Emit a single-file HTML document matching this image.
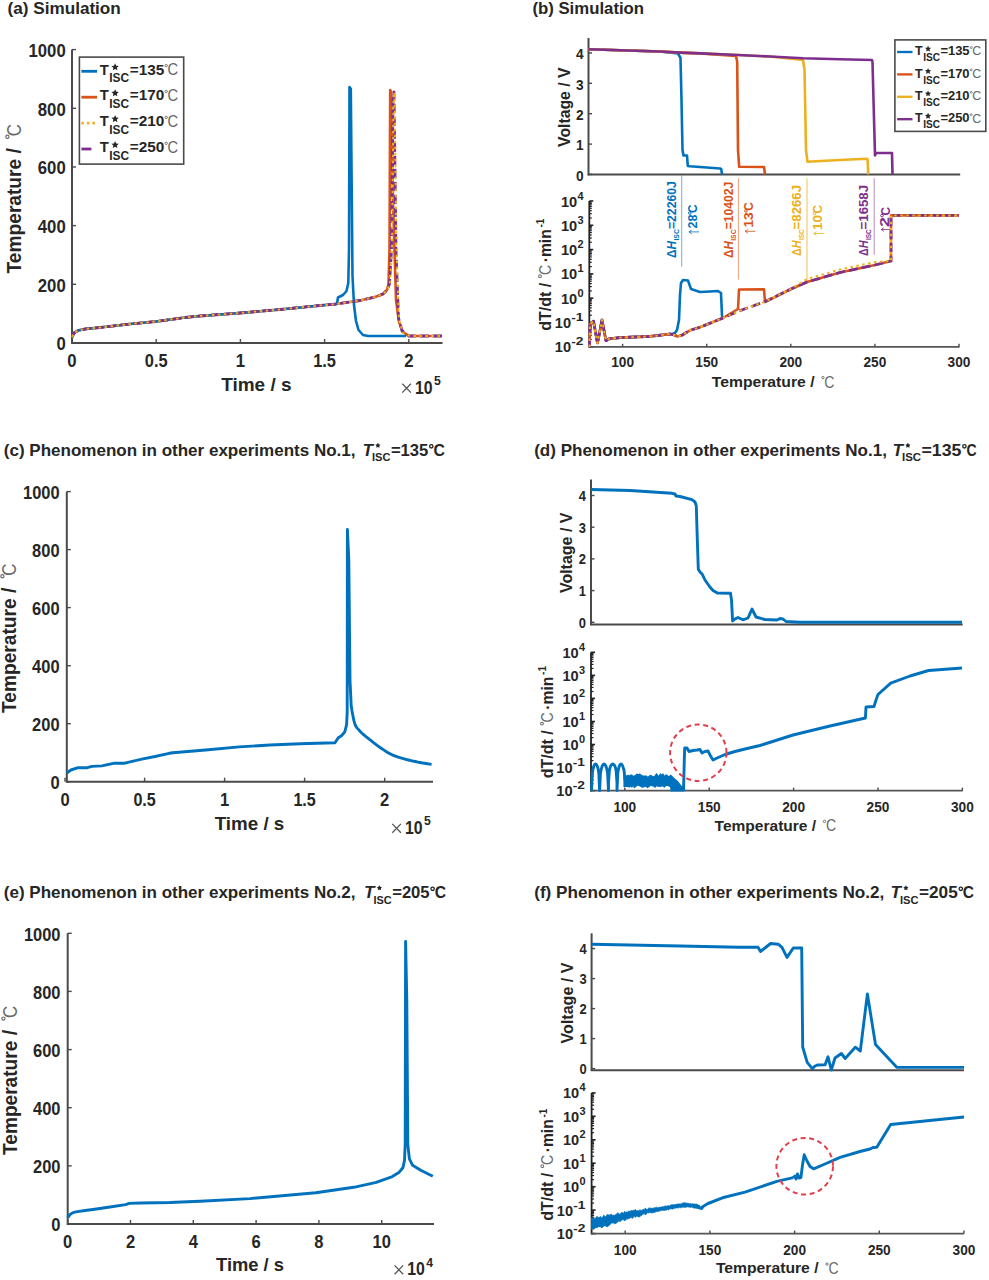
<!DOCTYPE html>
<html><head><meta charset="utf-8"><style>
html,body{margin:0;padding:0;background:#fff;}
svg{display:block;font-family:"Liberation Sans", sans-serif;}
</style></head><body>
<svg width="989" height="1280" viewBox="0 0 989 1280">
<rect width="989" height="1280" fill="#fff"/>
<text x="7.6" y="14.0" font-size="16.5" font-weight="bold" text-anchor="start" fill="#262626" textLength="113.2" lengthAdjust="spacingAndGlyphs" >(a) Simulation</text>
<line x1="72.0" y1="49.6" x2="72.0" y2="343.8" stroke="#4a4a4a" stroke-width="2.0" />
<line x1="71.2" y1="343.0" x2="442.5" y2="343.0" stroke="#4a4a4a" stroke-width="2.0" />
<line x1="72.0" y1="343.0" x2="76.0" y2="343.0" stroke="#4a4a4a" stroke-width="1.4" />
<text x="65.7" y="350.3" font-size="18" font-weight="bold" text-anchor="end" fill="#262626" textLength="9.3" lengthAdjust="spacingAndGlyphs" >0</text>
<line x1="72.0" y1="284.3" x2="76.0" y2="284.3" stroke="#4a4a4a" stroke-width="1.4" />
<text x="65.7" y="291.6" font-size="18" font-weight="bold" text-anchor="end" fill="#262626" textLength="27.9" lengthAdjust="spacingAndGlyphs" >200</text>
<line x1="72.0" y1="225.6" x2="76.0" y2="225.6" stroke="#4a4a4a" stroke-width="1.4" />
<text x="65.7" y="232.9" font-size="18" font-weight="bold" text-anchor="end" fill="#262626" textLength="27.9" lengthAdjust="spacingAndGlyphs" >400</text>
<line x1="72.0" y1="167.0" x2="76.0" y2="167.0" stroke="#4a4a4a" stroke-width="1.4" />
<text x="65.7" y="174.3" font-size="18" font-weight="bold" text-anchor="end" fill="#262626" textLength="27.9" lengthAdjust="spacingAndGlyphs" >600</text>
<line x1="72.0" y1="108.3" x2="76.0" y2="108.3" stroke="#4a4a4a" stroke-width="1.4" />
<text x="65.7" y="115.6" font-size="18" font-weight="bold" text-anchor="end" fill="#262626" textLength="27.9" lengthAdjust="spacingAndGlyphs" >800</text>
<line x1="72.0" y1="49.6" x2="76.0" y2="49.6" stroke="#4a4a4a" stroke-width="1.4" />
<text x="65.7" y="56.9" font-size="18" font-weight="bold" text-anchor="end" fill="#262626" textLength="37.2" lengthAdjust="spacingAndGlyphs" >1000</text>
<line x1="72.0" y1="343.0" x2="72.0" y2="339.0" stroke="#4a4a4a" stroke-width="1.4" />
<text x="72.0" y="367.3" font-size="18" font-weight="bold" text-anchor="middle" fill="#262626" textLength="9.3" lengthAdjust="spacingAndGlyphs" >0</text>
<line x1="156.2" y1="343.0" x2="156.2" y2="339.0" stroke="#4a4a4a" stroke-width="1.4" />
<text x="156.2" y="367.3" font-size="18" font-weight="bold" text-anchor="middle" fill="#262626" textLength="22.8" lengthAdjust="spacingAndGlyphs" >0.5</text>
<line x1="240.4" y1="343.0" x2="240.4" y2="339.0" stroke="#4a4a4a" stroke-width="1.4" />
<text x="240.4" y="367.3" font-size="18" font-weight="bold" text-anchor="middle" fill="#262626" textLength="9.3" lengthAdjust="spacingAndGlyphs" >1</text>
<line x1="324.6" y1="343.0" x2="324.6" y2="339.0" stroke="#4a4a4a" stroke-width="1.4" />
<text x="324.6" y="367.3" font-size="18" font-weight="bold" text-anchor="middle" fill="#262626" textLength="22.8" lengthAdjust="spacingAndGlyphs" >1.5</text>
<line x1="408.8" y1="343.0" x2="408.8" y2="339.0" stroke="#4a4a4a" stroke-width="1.4" />
<text x="408.8" y="367.3" font-size="18" font-weight="bold" text-anchor="middle" fill="#262626" textLength="9.3" lengthAdjust="spacingAndGlyphs" >2</text>
<polyline points="72.0,337.0 74.0,333.0 78.0,330.5 85.0,329.0 100.0,327.5 130.0,324.0 156.0,321.5 185.0,317.5 200.0,316.0 240.0,313.0 280.0,309.5 320.0,305.5 336.0,304.0 360.0,300.5 375.0,297.0 383.0,294.0 387.0,290.0 388.5,284.0 389.5,250.0 390.2,90.0 391.2,92.0 393.0,200.0 396.0,300.0 399.0,322.0 403.0,332.0 409.0,336.0 442.0,336.0" fill="none" stroke="#D95319" stroke-width="2.6" stroke-linejoin="round" stroke-linecap="butt" />
<polyline points="72.0,337.0 74.0,333.0 78.0,330.5 85.0,329.0 100.0,327.5 130.0,324.0 156.0,321.5 185.0,317.5 200.0,316.0 240.0,313.0 280.0,309.5 320.0,305.5 336.0,304.0 337.0,303.5 338.0,297.5 343.0,295.0 346.5,291.0 348.3,283.0 349.0,250.0 349.5,87.0 350.8,89.0 351.8,200.0 352.5,276.0 354.0,305.0 356.0,321.0 358.5,330.0 363.0,335.0 368.0,336.0 406.0,336.0" fill="none" stroke="#0072BD" stroke-width="2.6" stroke-linejoin="round" stroke-linecap="butt" />
<polyline points="72.0,337.0 74.0,333.0 78.0,330.5 85.0,329.0 100.0,327.5 130.0,324.0 156.0,321.5 185.0,317.5 200.0,316.0 240.0,313.0 280.0,309.5 320.0,305.5 336.0,304.0 360.0,300.5 375.0,297.0 383.0,294.0 387.0,290.0 389.5,284.0 391.5,250.0 393.0,100.0 394.0,92.0 396.0,250.0 398.5,318.0 402.0,331.0 409.0,336.0 442.0,336.0" fill="none" stroke="#7E2F8E" stroke-width="2.8" stroke-linejoin="round" stroke-linecap="butt" stroke-dasharray="9,4"/>
<polyline points="72.0,337.0 74.0,333.0 78.0,330.5 85.0,329.0 100.0,327.5 130.0,324.0 156.0,321.5 185.0,317.5 200.0,316.0 240.0,313.0 280.0,309.5 320.0,305.5 336.0,304.0 360.0,300.5 375.0,297.0 383.0,294.0 387.0,290.0 390.0,284.0 392.0,250.0 393.5,100.0 394.5,92.0 396.5,250.0 399.0,320.0 403.0,333.0 410.0,336.0 442.0,336.0" fill="none" stroke="#EDB120" stroke-width="2.0" stroke-linejoin="round" stroke-linecap="butt" stroke-dasharray="2.5,3.5"/>
<path d="M402.3,383.8 L410.9,392.6 M410.9,383.8 L402.3,392.6" stroke="#555" stroke-width="1.3" fill="none"/>
<text x="415.0" y="393.8" font-size="17.5" font-weight="bold" text-anchor="start" fill="#262626" textLength="17.6" lengthAdjust="spacingAndGlyphs" >10</text>
<text x="433.9" y="385.2" font-size="12.5" font-weight="bold" text-anchor="start" fill="#262626" textLength="6.8" lengthAdjust="spacingAndGlyphs" >5</text>
<text x="256.4" y="391.0" font-size="18.5" font-weight="bold" text-anchor="middle" fill="#262626" textLength="70.4" lengthAdjust="spacingAndGlyphs" >Time / s</text>
<text x="20.6" y="273.4" font-size="19.3" font-weight="bold" text-anchor="start" fill="#262626" textLength="125.2" lengthAdjust="spacingAndGlyphs" transform="rotate(-90 20.6 273.4)" >Temperature /</text>
<g transform="rotate(-90 20.6 139.0)">
<circle cx="22.8" cy="125.8" r="1.6" fill="none" stroke="#6a6a6a" stroke-width="1.16"/>
<text x="23.4" y="139.0" font-size="20" font-weight="normal" fill="#6a6a6a" textLength="12.2" lengthAdjust="spacingAndGlyphs">C</text>
</g>
<rect x="79.4" y="57.1" width="104.3" height="107" fill="#fff" stroke="#4a4a4a" stroke-width="1.6"/>
<line x1="81.4" y1="71.3" x2="97.1" y2="71.3" stroke="#0072BD" stroke-width="2.8" />
<text x="99.7" y="74.5" font-size="14.8" font-weight="bold" text-anchor="start" fill="#262626" textLength="9.0" lengthAdjust="spacingAndGlyphs" >T</text>
<polygon points="115.10,63.30 116.18,65.72 118.81,65.99 116.84,67.77 117.39,70.36 115.10,69.03 112.81,70.36 113.36,67.77 111.39,65.99 114.02,65.72" fill="#262626"/>
<text x="109.3" y="81.8" font-size="12.2" font-weight="bold" text-anchor="start" fill="#262626" textLength="19.9" lengthAdjust="spacingAndGlyphs" >ISC</text>
<text x="129.7" y="74.5" font-size="15.0" font-weight="bold" text-anchor="start" fill="#262626" textLength="34.6" lengthAdjust="spacingAndGlyphs" >=135</text>
<circle cx="166.2" cy="65.6" r="1.2" fill="none" stroke="#666" stroke-width="0.90"/>
<text x="167.4" y="74.8" font-size="16.0" font-weight="normal" text-anchor="start" fill="#666" textLength="10.6" lengthAdjust="spacingAndGlyphs" >C</text>
<line x1="81.4" y1="97.2" x2="97.1" y2="97.2" stroke="#D95319" stroke-width="2.8" />
<text x="99.7" y="100.4" font-size="14.8" font-weight="bold" text-anchor="start" fill="#262626" textLength="9.0" lengthAdjust="spacingAndGlyphs" >T</text>
<polygon points="115.10,89.20 116.18,91.62 118.81,91.89 116.84,93.67 117.39,96.26 115.10,94.93 112.81,96.26 113.36,93.67 111.39,91.89 114.02,91.62" fill="#262626"/>
<text x="109.3" y="107.7" font-size="12.2" font-weight="bold" text-anchor="start" fill="#262626" textLength="19.9" lengthAdjust="spacingAndGlyphs" >ISC</text>
<text x="129.7" y="100.4" font-size="15.0" font-weight="bold" text-anchor="start" fill="#262626" textLength="34.6" lengthAdjust="spacingAndGlyphs" >=170</text>
<circle cx="166.2" cy="91.5" r="1.2" fill="none" stroke="#666" stroke-width="0.90"/>
<text x="167.4" y="100.7" font-size="16.0" font-weight="normal" text-anchor="start" fill="#666" textLength="10.6" lengthAdjust="spacingAndGlyphs" >C</text>
<line x1="81.4" y1="123.1" x2="97.1" y2="123.1" stroke="#EDB120" stroke-width="2.8" stroke-dasharray="2.5,3"/>
<text x="99.7" y="126.3" font-size="14.8" font-weight="bold" text-anchor="start" fill="#262626" textLength="9.0" lengthAdjust="spacingAndGlyphs" >T</text>
<polygon points="115.10,115.10 116.18,117.52 118.81,117.79 116.84,119.57 117.39,122.16 115.10,120.83 112.81,122.16 113.36,119.57 111.39,117.79 114.02,117.52" fill="#262626"/>
<text x="109.3" y="133.6" font-size="12.2" font-weight="bold" text-anchor="start" fill="#262626" textLength="19.9" lengthAdjust="spacingAndGlyphs" >ISC</text>
<text x="129.7" y="126.3" font-size="15.0" font-weight="bold" text-anchor="start" fill="#262626" textLength="34.6" lengthAdjust="spacingAndGlyphs" >=210</text>
<circle cx="166.2" cy="117.4" r="1.2" fill="none" stroke="#666" stroke-width="0.90"/>
<text x="167.4" y="126.6" font-size="16.0" font-weight="normal" text-anchor="start" fill="#666" textLength="10.6" lengthAdjust="spacingAndGlyphs" >C</text>
<line x1="81.4" y1="149.0" x2="97.1" y2="149.0" stroke="#7E2F8E" stroke-width="2.8" stroke-dasharray="10,8"/>
<text x="99.7" y="152.2" font-size="14.8" font-weight="bold" text-anchor="start" fill="#262626" textLength="9.0" lengthAdjust="spacingAndGlyphs" >T</text>
<polygon points="115.10,141.00 116.18,143.42 118.81,143.69 116.84,145.47 117.39,148.06 115.10,146.73 112.81,148.06 113.36,145.47 111.39,143.69 114.02,143.42" fill="#262626"/>
<text x="109.3" y="159.5" font-size="12.2" font-weight="bold" text-anchor="start" fill="#262626" textLength="19.9" lengthAdjust="spacingAndGlyphs" >ISC</text>
<text x="129.7" y="152.2" font-size="15.0" font-weight="bold" text-anchor="start" fill="#262626" textLength="34.6" lengthAdjust="spacingAndGlyphs" >=250</text>
<circle cx="166.2" cy="143.3" r="1.2" fill="none" stroke="#666" stroke-width="0.90"/>
<text x="167.4" y="152.5" font-size="16.0" font-weight="normal" text-anchor="start" fill="#666" textLength="10.6" lengthAdjust="spacingAndGlyphs" >C</text>
<text x="532.4" y="14.0" font-size="16.5" font-weight="bold" text-anchor="start" fill="#262626" textLength="111.7" lengthAdjust="spacingAndGlyphs" >(b) Simulation</text>
<line x1="588.5" y1="38.0" x2="588.5" y2="175.4" stroke="#4a4a4a" stroke-width="2.0" />
<line x1="587.7" y1="174.6" x2="960.2" y2="174.6" stroke="#4a4a4a" stroke-width="2.0" />
<line x1="588.5" y1="174.4" x2="592.0" y2="174.4" stroke="#4a4a4a" stroke-width="1.4" />
<text x="583.5" y="180.6" font-size="15" font-weight="bold" text-anchor="end" fill="#262626" textLength="7.6" lengthAdjust="spacingAndGlyphs" >0</text>
<line x1="588.5" y1="144.1" x2="592.0" y2="144.1" stroke="#4a4a4a" stroke-width="1.4" />
<text x="583.5" y="150.2" font-size="15" font-weight="bold" text-anchor="end" fill="#262626" textLength="7.6" lengthAdjust="spacingAndGlyphs" >1</text>
<line x1="588.5" y1="113.7" x2="592.0" y2="113.7" stroke="#4a4a4a" stroke-width="1.4" />
<text x="583.5" y="119.9" font-size="15" font-weight="bold" text-anchor="end" fill="#262626" textLength="7.6" lengthAdjust="spacingAndGlyphs" >2</text>
<line x1="588.5" y1="83.3" x2="592.0" y2="83.3" stroke="#4a4a4a" stroke-width="1.4" />
<text x="583.5" y="89.5" font-size="15" font-weight="bold" text-anchor="end" fill="#262626" textLength="7.6" lengthAdjust="spacingAndGlyphs" >3</text>
<line x1="588.5" y1="53.0" x2="592.0" y2="53.0" stroke="#4a4a4a" stroke-width="1.4" />
<text x="583.5" y="59.2" font-size="15" font-weight="bold" text-anchor="end" fill="#262626" textLength="7.6" lengthAdjust="spacingAndGlyphs" >4</text>
<text x="569.6" y="146.9" font-size="16" font-weight="bold" text-anchor="start" fill="#262626" textLength="79.4" lengthAdjust="spacingAndGlyphs" transform="rotate(-90 569.6 146.9)" >Voltage / V</text>
<polyline points="588.5,49.3 620.0,50.2 660.0,51.5 678.0,53.5 680.5,58.0 681.5,100.0 682.5,150.0 683.5,155.5 687.0,155.5 687.8,166.0 690.0,166.3 720.0,168.5 721.2,169.0 722.0,174.4" fill="none" stroke="#0072BD" stroke-width="2.6" stroke-linejoin="round" stroke-linecap="butt" />
<polyline points="588.5,49.3 620.0,50.2 660.0,51.5 680.0,52.6 700.0,53.4 736.0,56.0 737.2,62.0 738.0,150.0 739.2,166.8 764.0,167.0 765.0,174.4" fill="none" stroke="#D95319" stroke-width="2.6" stroke-linejoin="round" stroke-linecap="butt" />
<polyline points="588.5,49.3 620.0,50.2 660.0,51.5 680.0,52.6 700.0,53.4 738.0,55.0 770.0,56.5 803.0,60.0 804.5,70.0 806.0,150.0 807.5,161.8 830.0,160.5 866.0,158.7 867.5,159.0 868.3,174.4" fill="none" stroke="#EDB120" stroke-width="2.6" stroke-linejoin="round" stroke-linecap="butt" />
<polyline points="588.5,49.3 620.0,50.2 660.0,51.5 680.0,52.6 700.0,53.4 738.0,55.0 770.0,56.5 803.0,58.3 840.0,59.2 872.0,60.0 872.5,62.0 873.5,100.0 875.0,155.5 876.0,153.0 892.0,153.0 892.5,174.4" fill="none" stroke="#7E2F8E" stroke-width="2.6" stroke-linejoin="round" stroke-linecap="butt" />
<rect x="894.9" y="39.9" width="90.9" height="91.5" fill="#fff" stroke="#4a4a4a" stroke-width="1.6"/>
<line x1="897.1" y1="52.0" x2="912.5" y2="52.0" stroke="#0072BD" stroke-width="2.3659999999999997" />
<text x="915.0" y="55.1" font-size="12.506" font-weight="bold" text-anchor="start" fill="#262626" textLength="7.6" lengthAdjust="spacingAndGlyphs" >T</text>
<polygon points="928.06,45.59 928.97,47.63 931.19,47.87 929.53,49.36 930.00,51.55 928.06,50.43 926.12,51.55 926.59,49.36 924.93,47.87 927.15,47.63" fill="#262626"/>
<text x="923.2" y="61.2" font-size="10.309" font-weight="bold" text-anchor="start" fill="#262626" textLength="16.8" lengthAdjust="spacingAndGlyphs" >ISC</text>
<text x="940.4" y="55.1" font-size="12.674999999999999" font-weight="bold" text-anchor="start" fill="#262626" textLength="29.2" lengthAdjust="spacingAndGlyphs" >=135</text>
<circle cx="971.2" cy="47.5" r="1.0" fill="none" stroke="#666" stroke-width="0.76"/>
<text x="972.3" y="55.3" font-size="13.52" font-weight="normal" text-anchor="start" fill="#666" textLength="9.0" lengthAdjust="spacingAndGlyphs" >C</text>
<line x1="897.1" y1="74.4" x2="912.5" y2="74.4" stroke="#D95319" stroke-width="2.3659999999999997" />
<text x="915.0" y="77.5" font-size="12.506" font-weight="bold" text-anchor="start" fill="#262626" textLength="7.6" lengthAdjust="spacingAndGlyphs" >T</text>
<polygon points="928.06,67.99 928.97,70.03 931.19,70.27 929.53,71.76 930.00,73.95 928.06,72.83 926.12,73.95 926.59,71.76 924.93,70.27 927.15,70.03" fill="#262626"/>
<text x="923.2" y="83.6" font-size="10.309" font-weight="bold" text-anchor="start" fill="#262626" textLength="16.8" lengthAdjust="spacingAndGlyphs" >ISC</text>
<text x="940.4" y="77.5" font-size="12.674999999999999" font-weight="bold" text-anchor="start" fill="#262626" textLength="29.2" lengthAdjust="spacingAndGlyphs" >=170</text>
<circle cx="971.2" cy="69.9" r="1.0" fill="none" stroke="#666" stroke-width="0.76"/>
<text x="972.3" y="77.7" font-size="13.52" font-weight="normal" text-anchor="start" fill="#666" textLength="9.0" lengthAdjust="spacingAndGlyphs" >C</text>
<line x1="897.1" y1="96.8" x2="912.5" y2="96.8" stroke="#EDB120" stroke-width="2.3659999999999997" />
<text x="915.0" y="99.9" font-size="12.506" font-weight="bold" text-anchor="start" fill="#262626" textLength="7.6" lengthAdjust="spacingAndGlyphs" >T</text>
<polygon points="928.06,90.39 928.97,92.43 931.19,92.67 929.53,94.16 930.00,96.35 928.06,95.23 926.12,96.35 926.59,94.16 924.93,92.67 927.15,92.43" fill="#262626"/>
<text x="923.2" y="106.0" font-size="10.309" font-weight="bold" text-anchor="start" fill="#262626" textLength="16.8" lengthAdjust="spacingAndGlyphs" >ISC</text>
<text x="940.4" y="99.9" font-size="12.674999999999999" font-weight="bold" text-anchor="start" fill="#262626" textLength="29.2" lengthAdjust="spacingAndGlyphs" >=210</text>
<circle cx="971.2" cy="92.3" r="1.0" fill="none" stroke="#666" stroke-width="0.76"/>
<text x="972.3" y="100.1" font-size="13.52" font-weight="normal" text-anchor="start" fill="#666" textLength="9.0" lengthAdjust="spacingAndGlyphs" >C</text>
<line x1="897.1" y1="119.2" x2="912.5" y2="119.2" stroke="#7E2F8E" stroke-width="2.3659999999999997" />
<text x="915.0" y="122.3" font-size="12.506" font-weight="bold" text-anchor="start" fill="#262626" textLength="7.6" lengthAdjust="spacingAndGlyphs" >T</text>
<polygon points="928.06,112.79 928.97,114.83 931.19,115.07 929.53,116.56 930.00,118.75 928.06,117.63 926.12,118.75 926.59,116.56 924.93,115.07 927.15,114.83" fill="#262626"/>
<text x="923.2" y="128.4" font-size="10.309" font-weight="bold" text-anchor="start" fill="#262626" textLength="16.8" lengthAdjust="spacingAndGlyphs" >ISC</text>
<text x="940.4" y="122.3" font-size="12.674999999999999" font-weight="bold" text-anchor="start" fill="#262626" textLength="29.2" lengthAdjust="spacingAndGlyphs" >=250</text>
<circle cx="971.2" cy="114.7" r="1.0" fill="none" stroke="#666" stroke-width="0.76"/>
<text x="972.3" y="122.5" font-size="13.52" font-weight="normal" text-anchor="start" fill="#666" textLength="9.0" lengthAdjust="spacingAndGlyphs" >C</text>
<line x1="589.3" y1="201.0" x2="589.3" y2="347.6" stroke="#222" stroke-width="1.8" />
<line x1="589.3" y1="346.8" x2="593.3" y2="346.8" stroke="#222" stroke-width="1.6" />
<text x="571.0" y="352.3" font-size="15" font-weight="bold" text-anchor="end" fill="#262626" textLength="16.2" lengthAdjust="spacingAndGlyphs" >10</text>
<text x="583.5" y="345.3" font-size="10.5" font-weight="bold" text-anchor="end" fill="#262626" textLength="12.2" lengthAdjust="spacingAndGlyphs" >-2</text>
<line x1="589.3" y1="339.5" x2="591.8" y2="339.5" stroke="#222" stroke-width="1.2" />
<line x1="589.3" y1="335.2" x2="591.8" y2="335.2" stroke="#222" stroke-width="1.2" />
<line x1="589.3" y1="332.2" x2="591.8" y2="332.2" stroke="#222" stroke-width="1.2" />
<line x1="589.3" y1="329.8" x2="591.8" y2="329.8" stroke="#222" stroke-width="1.2" />
<line x1="589.3" y1="327.9" x2="591.8" y2="327.9" stroke="#222" stroke-width="1.2" />
<line x1="589.3" y1="326.3" x2="591.8" y2="326.3" stroke="#222" stroke-width="1.2" />
<line x1="589.3" y1="324.9" x2="591.8" y2="324.9" stroke="#222" stroke-width="1.2" />
<line x1="589.3" y1="323.6" x2="591.8" y2="323.6" stroke="#222" stroke-width="1.2" />
<line x1="589.3" y1="322.5" x2="593.3" y2="322.5" stroke="#222" stroke-width="1.6" />
<text x="571.0" y="328.0" font-size="15" font-weight="bold" text-anchor="end" fill="#262626" textLength="16.2" lengthAdjust="spacingAndGlyphs" >10</text>
<text x="583.5" y="321.0" font-size="10.5" font-weight="bold" text-anchor="end" fill="#262626" textLength="12.2" lengthAdjust="spacingAndGlyphs" >-1</text>
<line x1="589.3" y1="315.2" x2="591.8" y2="315.2" stroke="#222" stroke-width="1.2" />
<line x1="589.3" y1="310.9" x2="591.8" y2="310.9" stroke="#222" stroke-width="1.2" />
<line x1="589.3" y1="307.9" x2="591.8" y2="307.9" stroke="#222" stroke-width="1.2" />
<line x1="589.3" y1="305.5" x2="591.8" y2="305.5" stroke="#222" stroke-width="1.2" />
<line x1="589.3" y1="303.6" x2="591.8" y2="303.6" stroke="#222" stroke-width="1.2" />
<line x1="589.3" y1="302.0" x2="591.8" y2="302.0" stroke="#222" stroke-width="1.2" />
<line x1="589.3" y1="300.6" x2="591.8" y2="300.6" stroke="#222" stroke-width="1.2" />
<line x1="589.3" y1="299.3" x2="591.8" y2="299.3" stroke="#222" stroke-width="1.2" />
<line x1="589.3" y1="298.2" x2="593.3" y2="298.2" stroke="#222" stroke-width="1.6" />
<text x="577.1" y="303.7" font-size="15" font-weight="bold" text-anchor="end" fill="#262626" textLength="16.2" lengthAdjust="spacingAndGlyphs" >10</text>
<text x="583.5" y="296.7" font-size="10.5" font-weight="bold" text-anchor="end" fill="#262626" textLength="6.1" lengthAdjust="spacingAndGlyphs" >0</text>
<line x1="589.3" y1="290.9" x2="591.8" y2="290.9" stroke="#222" stroke-width="1.2" />
<line x1="589.3" y1="286.6" x2="591.8" y2="286.6" stroke="#222" stroke-width="1.2" />
<line x1="589.3" y1="283.6" x2="591.8" y2="283.6" stroke="#222" stroke-width="1.2" />
<line x1="589.3" y1="281.2" x2="591.8" y2="281.2" stroke="#222" stroke-width="1.2" />
<line x1="589.3" y1="279.3" x2="591.8" y2="279.3" stroke="#222" stroke-width="1.2" />
<line x1="589.3" y1="277.7" x2="591.8" y2="277.7" stroke="#222" stroke-width="1.2" />
<line x1="589.3" y1="276.3" x2="591.8" y2="276.3" stroke="#222" stroke-width="1.2" />
<line x1="589.3" y1="275.0" x2="591.8" y2="275.0" stroke="#222" stroke-width="1.2" />
<line x1="589.3" y1="273.9" x2="593.3" y2="273.9" stroke="#222" stroke-width="1.6" />
<text x="577.1" y="279.4" font-size="15" font-weight="bold" text-anchor="end" fill="#262626" textLength="16.2" lengthAdjust="spacingAndGlyphs" >10</text>
<text x="583.5" y="272.4" font-size="10.5" font-weight="bold" text-anchor="end" fill="#262626" textLength="6.1" lengthAdjust="spacingAndGlyphs" >1</text>
<line x1="589.3" y1="266.6" x2="591.8" y2="266.6" stroke="#222" stroke-width="1.2" />
<line x1="589.3" y1="262.3" x2="591.8" y2="262.3" stroke="#222" stroke-width="1.2" />
<line x1="589.3" y1="259.3" x2="591.8" y2="259.3" stroke="#222" stroke-width="1.2" />
<line x1="589.3" y1="256.9" x2="591.8" y2="256.9" stroke="#222" stroke-width="1.2" />
<line x1="589.3" y1="255.0" x2="591.8" y2="255.0" stroke="#222" stroke-width="1.2" />
<line x1="589.3" y1="253.4" x2="591.8" y2="253.4" stroke="#222" stroke-width="1.2" />
<line x1="589.3" y1="252.0" x2="591.8" y2="252.0" stroke="#222" stroke-width="1.2" />
<line x1="589.3" y1="250.7" x2="591.8" y2="250.7" stroke="#222" stroke-width="1.2" />
<line x1="589.3" y1="249.6" x2="593.3" y2="249.6" stroke="#222" stroke-width="1.6" />
<text x="577.1" y="255.1" font-size="15" font-weight="bold" text-anchor="end" fill="#262626" textLength="16.2" lengthAdjust="spacingAndGlyphs" >10</text>
<text x="583.5" y="248.1" font-size="10.5" font-weight="bold" text-anchor="end" fill="#262626" textLength="6.1" lengthAdjust="spacingAndGlyphs" >2</text>
<line x1="589.3" y1="242.3" x2="591.8" y2="242.3" stroke="#222" stroke-width="1.2" />
<line x1="589.3" y1="238.0" x2="591.8" y2="238.0" stroke="#222" stroke-width="1.2" />
<line x1="589.3" y1="235.0" x2="591.8" y2="235.0" stroke="#222" stroke-width="1.2" />
<line x1="589.3" y1="232.6" x2="591.8" y2="232.6" stroke="#222" stroke-width="1.2" />
<line x1="589.3" y1="230.7" x2="591.8" y2="230.7" stroke="#222" stroke-width="1.2" />
<line x1="589.3" y1="229.1" x2="591.8" y2="229.1" stroke="#222" stroke-width="1.2" />
<line x1="589.3" y1="227.7" x2="591.8" y2="227.7" stroke="#222" stroke-width="1.2" />
<line x1="589.3" y1="226.4" x2="591.8" y2="226.4" stroke="#222" stroke-width="1.2" />
<line x1="589.3" y1="225.3" x2="593.3" y2="225.3" stroke="#222" stroke-width="1.6" />
<text x="577.1" y="230.8" font-size="15" font-weight="bold" text-anchor="end" fill="#262626" textLength="16.2" lengthAdjust="spacingAndGlyphs" >10</text>
<text x="583.5" y="223.8" font-size="10.5" font-weight="bold" text-anchor="end" fill="#262626" textLength="6.1" lengthAdjust="spacingAndGlyphs" >3</text>
<line x1="589.3" y1="218.0" x2="591.8" y2="218.0" stroke="#222" stroke-width="1.2" />
<line x1="589.3" y1="213.7" x2="591.8" y2="213.7" stroke="#222" stroke-width="1.2" />
<line x1="589.3" y1="210.7" x2="591.8" y2="210.7" stroke="#222" stroke-width="1.2" />
<line x1="589.3" y1="208.3" x2="591.8" y2="208.3" stroke="#222" stroke-width="1.2" />
<line x1="589.3" y1="206.4" x2="591.8" y2="206.4" stroke="#222" stroke-width="1.2" />
<line x1="589.3" y1="204.8" x2="591.8" y2="204.8" stroke="#222" stroke-width="1.2" />
<line x1="589.3" y1="203.4" x2="591.8" y2="203.4" stroke="#222" stroke-width="1.2" />
<line x1="589.3" y1="202.1" x2="591.8" y2="202.1" stroke="#222" stroke-width="1.2" />
<line x1="589.3" y1="201.0" x2="593.3" y2="201.0" stroke="#222" stroke-width="1.6" />
<text x="577.1" y="206.5" font-size="15" font-weight="bold" text-anchor="end" fill="#262626" textLength="16.2" lengthAdjust="spacingAndGlyphs" >10</text>
<text x="583.5" y="199.5" font-size="10.5" font-weight="bold" text-anchor="end" fill="#262626" textLength="6.1" lengthAdjust="spacingAndGlyphs" >4</text>
<line x1="588.5" y1="346.8" x2="959.5" y2="346.8" stroke="#555" stroke-width="1.8" />
<line x1="622.6" y1="346.8" x2="622.6" y2="343.8" stroke="#4a4a4a" stroke-width="1.4" />
<text x="622.6" y="367.3" font-size="14.5" font-weight="bold" text-anchor="middle" fill="#262626" textLength="22.8" lengthAdjust="spacingAndGlyphs" >100</text>
<line x1="706.7" y1="346.8" x2="706.7" y2="343.8" stroke="#4a4a4a" stroke-width="1.4" />
<text x="706.7" y="367.3" font-size="14.5" font-weight="bold" text-anchor="middle" fill="#262626" textLength="22.8" lengthAdjust="spacingAndGlyphs" >150</text>
<line x1="790.8" y1="346.8" x2="790.8" y2="343.8" stroke="#4a4a4a" stroke-width="1.4" />
<text x="790.8" y="367.3" font-size="14.5" font-weight="bold" text-anchor="middle" fill="#262626" textLength="22.8" lengthAdjust="spacingAndGlyphs" >200</text>
<line x1="874.9" y1="346.8" x2="874.9" y2="343.8" stroke="#4a4a4a" stroke-width="1.4" />
<text x="874.9" y="367.3" font-size="14.5" font-weight="bold" text-anchor="middle" fill="#262626" textLength="22.8" lengthAdjust="spacingAndGlyphs" >250</text>
<line x1="959.0" y1="346.8" x2="959.0" y2="343.8" stroke="#4a4a4a" stroke-width="1.4" />
<text x="959.0" y="367.3" font-size="14.5" font-weight="bold" text-anchor="middle" fill="#262626" textLength="22.8" lengthAdjust="spacingAndGlyphs" >300</text>
<text x="551.2" y="330.8" font-size="17" font-weight="bold" text-anchor="start" fill="#262626" textLength="48.0" lengthAdjust="spacingAndGlyphs" transform="rotate(-90 551.2 330.8)" >dT/dt /</text>
<g transform="rotate(-90 551.2 278.2)">
<circle cx="553.2" cy="267.0" r="1.4" fill="none" stroke="#6a6a6a" stroke-width="1.02"/>
<text x="554.4" y="278.2" font-size="17" font-weight="normal" fill="#6a6a6a" textLength="10.2" lengthAdjust="spacingAndGlyphs">C</text>
</g>
<text x="551.2" y="262.3" font-size="17" font-weight="bold" text-anchor="start" fill="#262626" textLength="33.0" lengthAdjust="spacingAndGlyphs" transform="rotate(-90 551.2 262.3)" >·min</text>
<text x="544.4" y="227.5" font-size="11.5" font-weight="bold" text-anchor="start" fill="#262626" textLength="9.0" lengthAdjust="spacingAndGlyphs" transform="rotate(-90 544.4 227.5)" >-1</text>
<text x="711.8" y="386.8" font-size="15" font-weight="bold" text-anchor="start" fill="#262626" textLength="102.7" lengthAdjust="spacingAndGlyphs" >Temperature /</text>
<circle cx="822.9" cy="377.6" r="1.2" fill="none" stroke="#6a6a6a" stroke-width="0.9"/>
<text x="824.3" y="387.6" font-size="16.5" font-weight="normal" text-anchor="start" fill="#6a6a6a" textLength="10.2" lengthAdjust="spacingAndGlyphs" >C</text>
<line x1="681.7" y1="175.5" x2="681.7" y2="266.8" stroke="#0072BD" stroke-width="1" opacity="0.55"/>
<line x1="738.4" y1="178.3" x2="738.4" y2="279.6" stroke="#D95319" stroke-width="1" opacity="0.55"/>
<line x1="807.0" y1="178.3" x2="807.0" y2="281.0" stroke="#EDB120" stroke-width="1.1" opacity="0.7"/>
<line x1="874.2" y1="178.3" x2="874.2" y2="254.6" stroke="#7E2F8E" stroke-width="1" opacity="0.55"/>
<text x="675.6" y="257.9" font-size="13" font-weight="bold" text-anchor="start" fill="#0072BD" textLength="16.9" lengthAdjust="spacingAndGlyphs" transform="rotate(-90 675.6 257.9)" >Δ<tspan font-style="italic">H</tspan></text>
<text x="678.9" y="240.6" font-size="8" font-weight="bold" text-anchor="start" fill="#0072BD" textLength="11.5" lengthAdjust="spacingAndGlyphs" transform="rotate(-90 678.9 240.6)" >ISC</text>
<text x="675.6" y="229.1" font-size="13" font-weight="bold" text-anchor="start" fill="#0072BD" textLength="48.0" lengthAdjust="spacingAndGlyphs" transform="rotate(-90 675.6 229.1)" >=22260J</text>
<path d="M699.1,231.9 L689.1,231.9 M691.7,230.1 L688.9,231.9 L691.7,233.7" fill="none" stroke="#0072BD" stroke-width="1" opacity="0.8"/>
<text x="697.3" y="228.5" font-size="13" font-weight="bold" text-anchor="start" fill="#0072BD" textLength="14.0" lengthAdjust="spacingAndGlyphs" transform="rotate(-90 697.3 228.5)" >28</text>
<g transform="rotate(-90 697.3 214.5)"><circle cx="698.7" cy="207.0" r="1.3" fill="none" stroke="#0072BD" stroke-width="1"/></g>
<text x="697.3" y="213.0" font-size="13" font-weight="bold" text-anchor="start" fill="#0072BD" textLength="8.5" lengthAdjust="spacingAndGlyphs" transform="rotate(-90 697.3 213.0)" >C</text>
<text x="732.9" y="257.9" font-size="13" font-weight="bold" text-anchor="start" fill="#D95319" textLength="16.8" lengthAdjust="spacingAndGlyphs" transform="rotate(-90 732.9 257.9)" >Δ<tspan font-style="italic">H</tspan></text>
<text x="736.2" y="240.8" font-size="8" font-weight="bold" text-anchor="start" fill="#D95319" textLength="11.4" lengthAdjust="spacingAndGlyphs" transform="rotate(-90 736.2 240.8)" >ISC</text>
<text x="732.9" y="229.3" font-size="13" font-weight="bold" text-anchor="start" fill="#D95319" textLength="47.6" lengthAdjust="spacingAndGlyphs" transform="rotate(-90 732.9 229.3)" >=10402J</text>
<path d="M755.2,231.3 L745.2,231.3 M747.8,229.5 L745.0,231.3 L747.8,233.1" fill="none" stroke="#D95319" stroke-width="1" opacity="0.8"/>
<text x="753.4" y="227.6" font-size="13" font-weight="bold" text-anchor="start" fill="#D95319" textLength="15.3" lengthAdjust="spacingAndGlyphs" transform="rotate(-90 753.4 227.6)" >13</text>
<g transform="rotate(-90 753.4 212.3)"><circle cx="754.8" cy="204.8" r="1.3" fill="none" stroke="#D95319" stroke-width="1"/></g>
<text x="753.4" y="210.8" font-size="13" font-weight="bold" text-anchor="start" fill="#D95319" textLength="8.5" lengthAdjust="spacingAndGlyphs" transform="rotate(-90 753.4 210.8)" >C</text>
<text x="801.0" y="256.0" font-size="13" font-weight="bold" text-anchor="start" fill="#EDB120" textLength="15.6" lengthAdjust="spacingAndGlyphs" transform="rotate(-90 801.0 256.0)" >Δ<tspan font-style="italic">H</tspan></text>
<text x="804.3" y="240.0" font-size="8" font-weight="bold" text-anchor="start" fill="#EDB120" textLength="10.7" lengthAdjust="spacingAndGlyphs" transform="rotate(-90 804.3 240.0)" >ISC</text>
<text x="801.0" y="229.4" font-size="13" font-weight="bold" text-anchor="start" fill="#EDB120" textLength="44.4" lengthAdjust="spacingAndGlyphs" transform="rotate(-90 801.0 229.4)" >=8266J</text>
<path d="M823.8,233.5 L813.8,233.5 M816.4,231.7 L813.6,233.5 L816.4,235.3" fill="none" stroke="#EDB120" stroke-width="1" opacity="0.8"/>
<text x="822.0" y="229.9" font-size="13" font-weight="bold" text-anchor="start" fill="#EDB120" textLength="14.9" lengthAdjust="spacingAndGlyphs" transform="rotate(-90 822.0 229.9)" >10</text>
<g transform="rotate(-90 822.0 215.0)"><circle cx="823.4" cy="207.5" r="1.3" fill="none" stroke="#EDB120" stroke-width="1"/></g>
<text x="822.0" y="213.5" font-size="13" font-weight="bold" text-anchor="start" fill="#EDB120" textLength="8.5" lengthAdjust="spacingAndGlyphs" transform="rotate(-90 822.0 213.5)" >C</text>
<text x="868.0" y="256.0" font-size="13" font-weight="bold" text-anchor="start" fill="#7E2F8E" textLength="15.6" lengthAdjust="spacingAndGlyphs" transform="rotate(-90 868.0 256.0)" >Δ<tspan font-style="italic">H</tspan></text>
<text x="871.3" y="240.0" font-size="8" font-weight="bold" text-anchor="start" fill="#7E2F8E" textLength="10.7" lengthAdjust="spacingAndGlyphs" transform="rotate(-90 871.3 240.0)" >ISC</text>
<text x="868.0" y="229.4" font-size="13" font-weight="bold" text-anchor="start" fill="#7E2F8E" textLength="44.4" lengthAdjust="spacingAndGlyphs" transform="rotate(-90 868.0 229.4)" >=1658J</text>
<path d="M891.3,229.5 L881.3,229.5 M883.9,227.7 L881.1,229.5 L883.9,231.3" fill="none" stroke="#7E2F8E" stroke-width="1" opacity="0.8"/>
<text x="889.5" y="226.9" font-size="13" font-weight="bold" text-anchor="start" fill="#7E2F8E" textLength="9.9" lengthAdjust="spacingAndGlyphs" transform="rotate(-90 889.5 226.9)" >2</text>
<g transform="rotate(-90 889.5 217.0)"><circle cx="890.9" cy="209.5" r="1.3" fill="none" stroke="#7E2F8E" stroke-width="1"/></g>
<text x="889.5" y="215.5" font-size="13" font-weight="bold" text-anchor="start" fill="#7E2F8E" textLength="8.5" lengthAdjust="spacingAndGlyphs" transform="rotate(-90 889.5 215.5)" >C</text>
<polyline points="589.5,347.0 590.0,324.3 593.5,321.2 597.5,343.0 602.0,320.0 606.0,340.7 609.0,338.8 620.0,337.6 650.0,336.4 670.0,334.0 672.0,334.0 675.0,333.0 677.0,330.0 679.0,320.0 680.0,295.0 681.0,283.0 683.0,280.0 688.0,280.5 691.0,289.0 700.0,292.0 710.0,291.5 718.0,291.0 721.0,293.0 722.0,316.0 723.0,318.0" fill="none" stroke="#0072BD" stroke-width="2.6" stroke-linejoin="round" stroke-linecap="butt" />
<polyline points="589.5,347.0 590.0,324.3 593.5,321.2 597.5,343.0 602.0,320.0 606.0,340.7 609.0,338.8 620.0,337.6 650.0,336.4 670.0,334.0 675.0,335.2 677.0,336.4 682.0,335.2 690.0,330.3 700.0,327.3 723.0,318.0 738.0,309.0 739.0,289.5 764.0,289.3 765.0,302.0 791.0,289.0 807.0,282.0 840.0,272.5 875.0,265.0 891.0,261.0 891.0,215.4 959.0,215.4" fill="none" stroke="#D95319" stroke-width="2.6" stroke-linejoin="round" stroke-linecap="butt" />
<polyline points="589.5,347.0 590.0,324.3 593.5,321.2 597.5,343.0 602.0,320.0 606.0,340.7 609.0,338.8 620.0,337.6 650.0,336.4 670.0,334.0 675.0,335.2 677.0,336.4 682.0,335.2 690.0,330.3 700.0,327.3 723.0,318.0 739.0,311.0 764.0,302.0 791.0,289.0 807.0,282.0 840.0,272.5 875.0,265.0 891.0,261.0 891.0,215.4 959.0,215.4" fill="none" stroke="#7E2F8E" stroke-width="2.8" stroke-linejoin="round" stroke-linecap="butt" stroke-dasharray="9,4"/>
<polyline points="589.5,347.0 590.0,324.3 593.5,321.2 597.5,343.0 602.0,320.0 606.0,340.7 609.0,338.8 620.0,337.6 650.0,336.4 670.0,334.0 675.0,335.2 677.0,336.4 682.0,335.2 690.0,330.3 700.0,327.3 723.0,318.0 739.0,311.0 764.0,302.0 791.0,289.0 807.0,279.0 840.0,269.5 875.0,262.0 891.0,261.0 891.0,215.4 959.0,215.4" fill="none" stroke="#EDB120" stroke-width="2.0" stroke-linejoin="round" stroke-linecap="butt" stroke-dasharray="2.5,3.5"/>
<text x="3.8" y="455.9" font-size="16.5" font-weight="bold" text-anchor="start" fill="#262626" textLength="351.7" lengthAdjust="spacingAndGlyphs" >(c) Phenomenon in other experiments No.1,</text>
<text x="362.5" y="455.9" font-size="16.5" font-weight="bold" text-anchor="start" fill="#262626" textLength="10.5" lengthAdjust="spacingAndGlyphs" font-style="italic" >T</text>
<polygon points="377.90,442.80 378.77,444.30 380.47,444.67 379.31,445.96 379.49,447.68 377.90,446.99 376.31,447.68 376.49,445.96 375.33,444.67 377.03,444.30" fill="#262626"/>
<text x="372.0" y="461.1" font-size="11.5" font-weight="bold" text-anchor="start" fill="#262626" textLength="18.4" lengthAdjust="spacingAndGlyphs" >ISC</text>
<text x="390.9" y="455.9" font-size="16.5" font-weight="bold" text-anchor="start" fill="#262626" textLength="37.4" lengthAdjust="spacingAndGlyphs" >=135</text>
<circle cx="431.3" cy="446.3" r="1.7" fill="none" stroke="#262626" stroke-width="1.32"/>
<text x="433.4" y="455.9" font-size="16.5" font-weight="bold" text-anchor="start" fill="#262626" textLength="11.4" lengthAdjust="spacingAndGlyphs" >C</text>
<line x1="66.8" y1="491.6" x2="66.8" y2="782.5" stroke="#4a4a4a" stroke-width="2.0" />
<line x1="66.0" y1="781.7" x2="433.0" y2="781.7" stroke="#4a4a4a" stroke-width="2.0" />
<line x1="66.8" y1="781.7" x2="70.8" y2="781.7" stroke="#4a4a4a" stroke-width="1.4" />
<text x="59.6" y="788.9" font-size="17.5" font-weight="bold" text-anchor="end" fill="#262626" textLength="9.2" lengthAdjust="spacingAndGlyphs" >0</text>
<line x1="66.8" y1="723.7" x2="70.8" y2="723.7" stroke="#4a4a4a" stroke-width="1.4" />
<text x="59.6" y="730.9" font-size="17.5" font-weight="bold" text-anchor="end" fill="#262626" textLength="27.5" lengthAdjust="spacingAndGlyphs" >200</text>
<line x1="66.8" y1="665.7" x2="70.8" y2="665.7" stroke="#4a4a4a" stroke-width="1.4" />
<text x="59.6" y="672.9" font-size="17.5" font-weight="bold" text-anchor="end" fill="#262626" textLength="27.5" lengthAdjust="spacingAndGlyphs" >400</text>
<line x1="66.8" y1="607.6" x2="70.8" y2="607.6" stroke="#4a4a4a" stroke-width="1.4" />
<text x="59.6" y="614.8" font-size="17.5" font-weight="bold" text-anchor="end" fill="#262626" textLength="27.5" lengthAdjust="spacingAndGlyphs" >600</text>
<line x1="66.8" y1="549.6" x2="70.8" y2="549.6" stroke="#4a4a4a" stroke-width="1.4" />
<text x="59.6" y="556.8" font-size="17.5" font-weight="bold" text-anchor="end" fill="#262626" textLength="27.5" lengthAdjust="spacingAndGlyphs" >800</text>
<line x1="66.8" y1="491.6" x2="70.8" y2="491.6" stroke="#4a4a4a" stroke-width="1.4" />
<text x="59.6" y="498.8" font-size="17.5" font-weight="bold" text-anchor="end" fill="#262626" textLength="36.6" lengthAdjust="spacingAndGlyphs" >1000</text>
<line x1="65.0" y1="781.7" x2="65.0" y2="777.7" stroke="#4a4a4a" stroke-width="1.4" />
<text x="65.0" y="805.6" font-size="17.5" font-weight="bold" text-anchor="middle" fill="#262626" textLength="9.2" lengthAdjust="spacingAndGlyphs" >0</text>
<line x1="144.6" y1="781.7" x2="144.6" y2="777.7" stroke="#4a4a4a" stroke-width="1.4" />
<text x="144.6" y="805.6" font-size="17.5" font-weight="bold" text-anchor="middle" fill="#262626" textLength="22.4" lengthAdjust="spacingAndGlyphs" >0.5</text>
<line x1="224.6" y1="781.7" x2="224.6" y2="777.7" stroke="#4a4a4a" stroke-width="1.4" />
<text x="224.6" y="805.6" font-size="17.5" font-weight="bold" text-anchor="middle" fill="#262626" textLength="9.2" lengthAdjust="spacingAndGlyphs" >1</text>
<line x1="304.6" y1="781.7" x2="304.6" y2="777.7" stroke="#4a4a4a" stroke-width="1.4" />
<text x="304.6" y="805.6" font-size="17.5" font-weight="bold" text-anchor="middle" fill="#262626" textLength="22.4" lengthAdjust="spacingAndGlyphs" >1.5</text>
<line x1="384.7" y1="781.7" x2="384.7" y2="777.7" stroke="#4a4a4a" stroke-width="1.4" />
<text x="384.7" y="805.6" font-size="17.5" font-weight="bold" text-anchor="middle" fill="#262626" textLength="9.2" lengthAdjust="spacingAndGlyphs" >2</text>
<polyline points="66.8,773.0 70.9,770.0 78.2,767.7 87.3,767.7 91.9,766.4 101.9,765.9 114.6,763.1 123.7,763.3 141.9,759.1 155.0,756.5 169.2,753.3 172.9,752.8 205.6,750.0 239.3,746.9 270.0,745.0 300.0,743.8 335.0,742.8 338.3,737.8 341.5,735.8 344.8,731.9 346.6,724.7 347.2,712.0 347.4,529.5 348.8,560.0 350.0,680.0 351.2,706.0 351.2,706.0 351.6,708.0 352.0,710.9 352.6,714.2 353.3,717.7 354.0,720.9 354.7,723.4 355.4,725.3 356.2,726.7 357.0,727.9 357.9,728.9 358.9,730.0 360.0,731.2 361.2,732.5 362.6,733.8 364.1,735.0 365.6,736.3 367.3,737.7 369.1,739.1 371.1,740.7 373.2,742.4 375.5,744.1 377.8,745.8 380.1,747.5 382.3,749.0 384.4,750.4 386.4,751.7 388.4,752.9 390.5,754.0 392.8,755.1 395.4,756.2 398.3,757.2 401.6,758.2 405.0,759.1 408.5,760.0 411.9,760.8 415.1,761.5 418.2,762.2 421.4,762.8 424.6,763.3 427.4,763.7 429.8,764.1 431.6,764.4" fill="none" stroke="#0072BD" stroke-width="2.9" stroke-linejoin="round" stroke-linecap="butt" />
<path d="M392.3,823.9 L400.9,832.7 M400.9,823.9 L392.3,832.7" stroke="#555" stroke-width="1.3" fill="none"/>
<text x="405.0" y="833.9" font-size="17.5" font-weight="bold" text-anchor="start" fill="#262626" textLength="17.6" lengthAdjust="spacingAndGlyphs" >10</text>
<text x="423.9" y="825.3" font-size="12.5" font-weight="bold" text-anchor="start" fill="#262626" textLength="6.8" lengthAdjust="spacingAndGlyphs" >5</text>
<text x="249.5" y="829.7" font-size="18.5" font-weight="bold" text-anchor="middle" fill="#262626" textLength="69.5" lengthAdjust="spacingAndGlyphs" >Time / s</text>
<text x="15.6" y="713.0" font-size="19.3" font-weight="bold" text-anchor="start" fill="#262626" textLength="125.3" lengthAdjust="spacingAndGlyphs" transform="rotate(-90 15.6 713.0)" >Temperature /</text>
<g transform="rotate(-90 15.6 578.5)">
<circle cx="17.8" cy="565.3" r="1.6" fill="none" stroke="#6a6a6a" stroke-width="1.16"/>
<text x="18.4" y="578.5" font-size="20" font-weight="normal" fill="#6a6a6a" textLength="12.2" lengthAdjust="spacingAndGlyphs">C</text>
</g>
<text x="534.2" y="455.9" font-size="16.5" font-weight="bold" text-anchor="start" fill="#262626" textLength="352.7" lengthAdjust="spacingAndGlyphs" >(d) Phenomenon in other experiments No.1,</text>
<text x="892.5" y="455.9" font-size="16.5" font-weight="bold" text-anchor="start" fill="#262626" textLength="10.5" lengthAdjust="spacingAndGlyphs" font-style="italic" >T</text>
<polygon points="907.90,442.80 908.77,444.30 910.47,444.67 909.31,445.96 909.49,447.68 907.90,446.99 906.31,447.68 906.49,445.96 905.33,444.67 907.03,444.30" fill="#262626"/>
<text x="902.0" y="461.1" font-size="11.5" font-weight="bold" text-anchor="start" fill="#262626" textLength="19.0" lengthAdjust="spacingAndGlyphs" >ISC</text>
<text x="921.5" y="455.9" font-size="16.5" font-weight="bold" text-anchor="start" fill="#262626" textLength="39.9" lengthAdjust="spacingAndGlyphs" >=135</text>
<circle cx="964.4" cy="446.3" r="1.7" fill="none" stroke="#262626" stroke-width="1.32"/>
<text x="966.5" y="455.9" font-size="16.5" font-weight="bold" text-anchor="start" fill="#262626" textLength="10.1" lengthAdjust="spacingAndGlyphs" >C</text>
<line x1="591.0" y1="479.4" x2="591.0" y2="625.3" stroke="#4a4a4a" stroke-width="2.0" />
<line x1="590.2" y1="624.5" x2="962.7" y2="624.5" stroke="#4a4a4a" stroke-width="2.0" />
<line x1="591.0" y1="622.3" x2="594.5" y2="622.3" stroke="#4a4a4a" stroke-width="1.4" />
<text x="586.0" y="627.8" font-size="15" font-weight="bold" text-anchor="end" fill="#262626" textLength="7.2" lengthAdjust="spacingAndGlyphs" >0</text>
<line x1="591.0" y1="590.6" x2="594.5" y2="590.6" stroke="#4a4a4a" stroke-width="1.4" />
<text x="586.0" y="596.1" font-size="15" font-weight="bold" text-anchor="end" fill="#262626" textLength="7.2" lengthAdjust="spacingAndGlyphs" >1</text>
<line x1="591.0" y1="558.9" x2="594.5" y2="558.9" stroke="#4a4a4a" stroke-width="1.4" />
<text x="586.0" y="564.4" font-size="15" font-weight="bold" text-anchor="end" fill="#262626" textLength="7.2" lengthAdjust="spacingAndGlyphs" >2</text>
<line x1="591.0" y1="527.2" x2="594.5" y2="527.2" stroke="#4a4a4a" stroke-width="1.4" />
<text x="586.0" y="532.7" font-size="15" font-weight="bold" text-anchor="end" fill="#262626" textLength="7.2" lengthAdjust="spacingAndGlyphs" >3</text>
<line x1="591.0" y1="495.5" x2="594.5" y2="495.5" stroke="#4a4a4a" stroke-width="1.4" />
<text x="586.0" y="501.0" font-size="15" font-weight="bold" text-anchor="end" fill="#262626" textLength="7.2" lengthAdjust="spacingAndGlyphs" >4</text>
<text x="572.5" y="593.1" font-size="16.5" font-weight="bold" text-anchor="start" fill="#262626" textLength="80.6" lengthAdjust="spacingAndGlyphs" transform="rotate(-90 572.5 593.1)" >Voltage / V</text>
<polyline points="591.0,489.5 630.0,490.5 672.0,493.3 675.0,494.0 676.0,496.0 680.0,496.5 692.0,499.7 695.0,502.0 696.3,506.0 697.0,530.0 698.3,569.2 700.0,572.0 702.3,574.3 705.0,580.0 709.9,587.0 713.0,590.5 717.4,593.0 730.5,593.2 731.5,600.0 732.6,621.0 735.0,619.0 738.0,617.5 743.0,619.8 748.0,618.0 752.0,609.0 756.0,617.0 765.0,619.5 777.0,620.0 780.0,618.5 783.0,619.0 786.0,621.5 800.0,622.3 962.0,622.3" fill="none" stroke="#0072BD" stroke-width="2.9" stroke-linejoin="round" stroke-linecap="butt" />
<line x1="591.0" y1="652.3" x2="591.0" y2="791.4" stroke="#222" stroke-width="1.8" />
<line x1="591.0" y1="790.6" x2="595.0" y2="790.6" stroke="#222" stroke-width="1.6" />
<text x="572.5" y="796.1" font-size="15" font-weight="bold" text-anchor="end" fill="#262626" textLength="16.2" lengthAdjust="spacingAndGlyphs" >10</text>
<text x="585.0" y="789.1" font-size="10.5" font-weight="bold" text-anchor="end" fill="#262626" textLength="12.2" lengthAdjust="spacingAndGlyphs" >-2</text>
<line x1="591.0" y1="783.7" x2="593.5" y2="783.7" stroke="#222" stroke-width="1.2" />
<line x1="591.0" y1="779.6" x2="593.5" y2="779.6" stroke="#222" stroke-width="1.2" />
<line x1="591.0" y1="776.7" x2="593.5" y2="776.7" stroke="#222" stroke-width="1.2" />
<line x1="591.0" y1="774.5" x2="593.5" y2="774.5" stroke="#222" stroke-width="1.2" />
<line x1="591.0" y1="772.7" x2="593.5" y2="772.7" stroke="#222" stroke-width="1.2" />
<line x1="591.0" y1="771.1" x2="593.5" y2="771.1" stroke="#222" stroke-width="1.2" />
<line x1="591.0" y1="769.8" x2="593.5" y2="769.8" stroke="#222" stroke-width="1.2" />
<line x1="591.0" y1="768.6" x2="593.5" y2="768.6" stroke="#222" stroke-width="1.2" />
<line x1="591.0" y1="767.6" x2="595.0" y2="767.6" stroke="#222" stroke-width="1.6" />
<text x="572.5" y="773.1" font-size="15" font-weight="bold" text-anchor="end" fill="#262626" textLength="16.2" lengthAdjust="spacingAndGlyphs" >10</text>
<text x="585.0" y="766.1" font-size="10.5" font-weight="bold" text-anchor="end" fill="#262626" textLength="12.2" lengthAdjust="spacingAndGlyphs" >-1</text>
<line x1="591.0" y1="760.6" x2="593.5" y2="760.6" stroke="#222" stroke-width="1.2" />
<line x1="591.0" y1="756.6" x2="593.5" y2="756.6" stroke="#222" stroke-width="1.2" />
<line x1="591.0" y1="753.7" x2="593.5" y2="753.7" stroke="#222" stroke-width="1.2" />
<line x1="591.0" y1="751.4" x2="593.5" y2="751.4" stroke="#222" stroke-width="1.2" />
<line x1="591.0" y1="749.6" x2="593.5" y2="749.6" stroke="#222" stroke-width="1.2" />
<line x1="591.0" y1="748.1" x2="593.5" y2="748.1" stroke="#222" stroke-width="1.2" />
<line x1="591.0" y1="746.7" x2="593.5" y2="746.7" stroke="#222" stroke-width="1.2" />
<line x1="591.0" y1="745.6" x2="593.5" y2="745.6" stroke="#222" stroke-width="1.2" />
<line x1="591.0" y1="744.5" x2="595.0" y2="744.5" stroke="#222" stroke-width="1.6" />
<text x="578.6" y="750.0" font-size="15" font-weight="bold" text-anchor="end" fill="#262626" textLength="16.2" lengthAdjust="spacingAndGlyphs" >10</text>
<text x="585.0" y="743.0" font-size="10.5" font-weight="bold" text-anchor="end" fill="#262626" textLength="6.1" lengthAdjust="spacingAndGlyphs" >0</text>
<line x1="591.0" y1="737.6" x2="593.5" y2="737.6" stroke="#222" stroke-width="1.2" />
<line x1="591.0" y1="733.5" x2="593.5" y2="733.5" stroke="#222" stroke-width="1.2" />
<line x1="591.0" y1="730.6" x2="593.5" y2="730.6" stroke="#222" stroke-width="1.2" />
<line x1="591.0" y1="728.4" x2="593.5" y2="728.4" stroke="#222" stroke-width="1.2" />
<line x1="591.0" y1="726.6" x2="593.5" y2="726.6" stroke="#222" stroke-width="1.2" />
<line x1="591.0" y1="725.0" x2="593.5" y2="725.0" stroke="#222" stroke-width="1.2" />
<line x1="591.0" y1="723.7" x2="593.5" y2="723.7" stroke="#222" stroke-width="1.2" />
<line x1="591.0" y1="722.5" x2="593.5" y2="722.5" stroke="#222" stroke-width="1.2" />
<line x1="591.0" y1="721.5" x2="595.0" y2="721.5" stroke="#222" stroke-width="1.6" />
<text x="578.6" y="727.0" font-size="15" font-weight="bold" text-anchor="end" fill="#262626" textLength="16.2" lengthAdjust="spacingAndGlyphs" >10</text>
<text x="585.0" y="720.0" font-size="10.5" font-weight="bold" text-anchor="end" fill="#262626" textLength="6.1" lengthAdjust="spacingAndGlyphs" >1</text>
<line x1="591.0" y1="714.5" x2="593.5" y2="714.5" stroke="#222" stroke-width="1.2" />
<line x1="591.0" y1="710.5" x2="593.5" y2="710.5" stroke="#222" stroke-width="1.2" />
<line x1="591.0" y1="707.6" x2="593.5" y2="707.6" stroke="#222" stroke-width="1.2" />
<line x1="591.0" y1="705.3" x2="593.5" y2="705.3" stroke="#222" stroke-width="1.2" />
<line x1="591.0" y1="703.5" x2="593.5" y2="703.5" stroke="#222" stroke-width="1.2" />
<line x1="591.0" y1="702.0" x2="593.5" y2="702.0" stroke="#222" stroke-width="1.2" />
<line x1="591.0" y1="700.6" x2="593.5" y2="700.6" stroke="#222" stroke-width="1.2" />
<line x1="591.0" y1="699.5" x2="593.5" y2="699.5" stroke="#222" stroke-width="1.2" />
<line x1="591.0" y1="698.4" x2="595.0" y2="698.4" stroke="#222" stroke-width="1.6" />
<text x="578.6" y="703.9" font-size="15" font-weight="bold" text-anchor="end" fill="#262626" textLength="16.2" lengthAdjust="spacingAndGlyphs" >10</text>
<text x="585.0" y="696.9" font-size="10.5" font-weight="bold" text-anchor="end" fill="#262626" textLength="6.1" lengthAdjust="spacingAndGlyphs" >2</text>
<line x1="591.0" y1="691.5" x2="593.5" y2="691.5" stroke="#222" stroke-width="1.2" />
<line x1="591.0" y1="687.4" x2="593.5" y2="687.4" stroke="#222" stroke-width="1.2" />
<line x1="591.0" y1="684.5" x2="593.5" y2="684.5" stroke="#222" stroke-width="1.2" />
<line x1="591.0" y1="682.3" x2="593.5" y2="682.3" stroke="#222" stroke-width="1.2" />
<line x1="591.0" y1="680.5" x2="593.5" y2="680.5" stroke="#222" stroke-width="1.2" />
<line x1="591.0" y1="678.9" x2="593.5" y2="678.9" stroke="#222" stroke-width="1.2" />
<line x1="591.0" y1="677.6" x2="593.5" y2="677.6" stroke="#222" stroke-width="1.2" />
<line x1="591.0" y1="676.4" x2="593.5" y2="676.4" stroke="#222" stroke-width="1.2" />
<line x1="591.0" y1="675.4" x2="595.0" y2="675.4" stroke="#222" stroke-width="1.6" />
<text x="578.6" y="680.9" font-size="15" font-weight="bold" text-anchor="end" fill="#262626" textLength="16.2" lengthAdjust="spacingAndGlyphs" >10</text>
<text x="585.0" y="673.9" font-size="10.5" font-weight="bold" text-anchor="end" fill="#262626" textLength="6.1" lengthAdjust="spacingAndGlyphs" >3</text>
<line x1="591.0" y1="668.4" x2="593.5" y2="668.4" stroke="#222" stroke-width="1.2" />
<line x1="591.0" y1="664.4" x2="593.5" y2="664.4" stroke="#222" stroke-width="1.2" />
<line x1="591.0" y1="661.5" x2="593.5" y2="661.5" stroke="#222" stroke-width="1.2" />
<line x1="591.0" y1="659.2" x2="593.5" y2="659.2" stroke="#222" stroke-width="1.2" />
<line x1="591.0" y1="657.4" x2="593.5" y2="657.4" stroke="#222" stroke-width="1.2" />
<line x1="591.0" y1="655.9" x2="593.5" y2="655.9" stroke="#222" stroke-width="1.2" />
<line x1="591.0" y1="654.5" x2="593.5" y2="654.5" stroke="#222" stroke-width="1.2" />
<line x1="591.0" y1="653.4" x2="593.5" y2="653.4" stroke="#222" stroke-width="1.2" />
<line x1="591.0" y1="652.3" x2="595.0" y2="652.3" stroke="#222" stroke-width="1.6" />
<text x="578.6" y="657.8" font-size="15" font-weight="bold" text-anchor="end" fill="#262626" textLength="16.2" lengthAdjust="spacingAndGlyphs" >10</text>
<text x="585.0" y="650.8" font-size="10.5" font-weight="bold" text-anchor="end" fill="#262626" textLength="6.1" lengthAdjust="spacingAndGlyphs" >4</text>
<line x1="590.2" y1="790.6" x2="962.7" y2="790.6" stroke="#555" stroke-width="1.8" />
<line x1="624.8" y1="790.6" x2="624.8" y2="787.6" stroke="#4a4a4a" stroke-width="1.4" />
<text x="624.8" y="811.5" font-size="14.5" font-weight="bold" text-anchor="middle" fill="#262626" textLength="22.8" lengthAdjust="spacingAndGlyphs" >100</text>
<line x1="709.2" y1="790.6" x2="709.2" y2="787.6" stroke="#4a4a4a" stroke-width="1.4" />
<text x="709.2" y="811.5" font-size="14.5" font-weight="bold" text-anchor="middle" fill="#262626" textLength="22.8" lengthAdjust="spacingAndGlyphs" >150</text>
<line x1="793.6" y1="790.6" x2="793.6" y2="787.6" stroke="#4a4a4a" stroke-width="1.4" />
<text x="793.6" y="811.5" font-size="14.5" font-weight="bold" text-anchor="middle" fill="#262626" textLength="22.8" lengthAdjust="spacingAndGlyphs" >200</text>
<line x1="878.0" y1="790.6" x2="878.0" y2="787.6" stroke="#4a4a4a" stroke-width="1.4" />
<text x="878.0" y="811.5" font-size="14.5" font-weight="bold" text-anchor="middle" fill="#262626" textLength="22.8" lengthAdjust="spacingAndGlyphs" >250</text>
<line x1="962.4" y1="790.6" x2="962.4" y2="787.6" stroke="#4a4a4a" stroke-width="1.4" />
<text x="962.4" y="811.5" font-size="14.5" font-weight="bold" text-anchor="middle" fill="#262626" textLength="22.8" lengthAdjust="spacingAndGlyphs" >300</text>
<text x="553.2" y="778.2" font-size="17" font-weight="bold" text-anchor="start" fill="#262626" textLength="48.0" lengthAdjust="spacingAndGlyphs" transform="rotate(-90 553.2 778.2)" >dT/dt /</text>
<g transform="rotate(-90 553.2 725.6)">
<circle cx="555.2" cy="714.4" r="1.4" fill="none" stroke="#6a6a6a" stroke-width="1.02"/>
<text x="556.4" y="725.6" font-size="17" font-weight="normal" fill="#6a6a6a" textLength="10.2" lengthAdjust="spacingAndGlyphs">C</text>
</g>
<text x="553.2" y="709.7" font-size="17" font-weight="bold" text-anchor="start" fill="#262626" textLength="33.0" lengthAdjust="spacingAndGlyphs" transform="rotate(-90 553.2 709.7)" >·min</text>
<text x="546.4" y="674.9" font-size="11.5" font-weight="bold" text-anchor="start" fill="#262626" textLength="9.0" lengthAdjust="spacingAndGlyphs" transform="rotate(-90 546.4 674.9)" >-1</text>
<text x="714.6" y="830.6" font-size="15" font-weight="bold" text-anchor="start" fill="#262626" textLength="101.5" lengthAdjust="spacingAndGlyphs" >Temperature /</text>
<circle cx="824.5" cy="821.4" r="1.2" fill="none" stroke="#6a6a6a" stroke-width="0.9"/>
<text x="825.9" y="831.4" font-size="16.5" font-weight="normal" text-anchor="start" fill="#6a6a6a" textLength="10.2" lengthAdjust="spacingAndGlyphs" >C</text>
<polyline points="591.5,790.6 592.3,773.0 593.1,768.5 593.9,765.9 594.7,764.5 595.5,764.0 596.4,764.5 597.2,765.9 598.0,768.5 598.8,773.0 599.6,790.6 599.6,790.6 600.5,773.0 601.4,768.5 602.3,765.9 603.2,764.5 604.0,764.0 604.9,764.5 605.8,765.9 606.7,768.5 607.6,773.0 608.5,790.6 608.5,783.0 609.4,770.4 610.2,767.2 611.0,765.4 611.9,764.3 612.8,764.0 613.6,764.3 614.5,765.4 615.3,767.2 616.1,770.4 617.0,783.0 617.0,790.6 617.8,773.0 618.6,768.5 619.4,765.9 620.2,764.5 621.0,764.0 621.8,764.5 622.6,765.9 624.0,770.0 625.0,780.0" fill="none" stroke="#0072BD" stroke-width="2.9" stroke-linejoin="round" stroke-linecap="butt" />
<path d="M624.0,775.9 L625.3,777.0 L626.6,776.1 L627.9,775.3 L629.2,776.3 L630.5,775.1 L631.8,775.1 L633.1,776.5 L634.4,776.0 L635.7,775.2 L637.0,774.1 L638.3,774.9 L639.6,774.1 L640.9,775.0 L642.2,775.9 L643.5,776.1 L644.8,776.0 L646.1,776.0 L647.4,777.2 L648.7,776.8 L650.0,775.6 L651.3,775.6 L652.6,776.7 L653.9,776.8 L655.2,775.9 L656.5,773.7 L657.8,775.8 L659.1,776.0 L660.4,773.9 L661.7,775.5 L663.0,773.9 L664.3,777.1 L665.6,775.2 L666.9,775.1 L668.2,776.7 L669.5,776.2 L670.8,775.3 L674.0,778.5 L678.0,782.0 L681.0,786.0 L683.5,788.5 L684.0,791.0 L671.0,791.0 L670.8,786.9 L669.5,786.2 L668.2,785.5 L666.9,785.2 L665.6,785.6 L664.3,787.0 L663.0,785.9 L661.7,785.7 L660.4,786.6 L659.1,786.0 L657.8,786.2 L656.5,785.5 L655.2,787.2 L653.9,786.0 L652.6,786.0 L651.3,785.2 L650.0,785.6 L648.7,786.8 L647.4,787.6 L646.1,785.7 L644.8,786.7 L643.5,786.7 L642.2,787.2 L640.9,786.2 L639.6,785.6 L638.3,785.2 L637.0,785.0 L635.7,786.6 L634.4,787.5 L633.1,785.1 L631.8,787.1 L630.5,785.8 L629.2,787.1 L627.9,786.3 L626.6,786.5 L625.3,786.2 L624.0,786.5 Z" fill="#0072BD" stroke="#0072BD" stroke-width="1.2" stroke-linejoin="round"/>
<polyline points="683.5,790.6 684.3,760.0 684.7,748.0 687.0,748.0 689.0,751.5 693.0,750.5 697.0,750.0 700.0,749.5 702.0,753.0 705.0,751.5 708.0,751.0 710.0,755.0 713.0,760.0 716.0,758.5 725.0,754.5 735.0,751.5 745.0,749.0 760.0,745.5 793.0,735.0 830.0,726.0 865.4,718.0 866.0,707.0 874.0,706.5 876.0,700.0 878.0,694.5 890.7,683.1 910.0,676.0 928.6,670.5 962.0,668.0" fill="none" stroke="#0072BD" stroke-width="2.9" stroke-linejoin="round" stroke-linecap="butt" />
<circle cx="698.3" cy="752.7" r="28.2" fill="none" stroke="#E2404E" stroke-width="2" stroke-dasharray="5,3.6"/>
<text x="3.8" y="898.4" font-size="16.5" font-weight="bold" text-anchor="start" fill="#262626" textLength="351.7" lengthAdjust="spacingAndGlyphs" >(e) Phenomenon in other experiments No.2,</text>
<text x="364.0" y="898.4" font-size="16.5" font-weight="bold" text-anchor="start" fill="#262626" textLength="10.5" lengthAdjust="spacingAndGlyphs" font-style="italic" >T</text>
<polygon points="379.40,885.30 380.27,886.80 381.97,887.17 380.81,888.46 380.99,890.18 379.40,889.49 377.81,890.18 377.99,888.46 376.83,887.17 378.53,886.80" fill="#262626"/>
<text x="373.5" y="903.6" font-size="11.5" font-weight="bold" text-anchor="start" fill="#262626" textLength="18.2" lengthAdjust="spacingAndGlyphs" >ISC</text>
<text x="392.2" y="898.4" font-size="16.5" font-weight="bold" text-anchor="start" fill="#262626" textLength="37.4" lengthAdjust="spacingAndGlyphs" >=205</text>
<circle cx="432.6" cy="888.8" r="1.7" fill="none" stroke="#262626" stroke-width="1.32"/>
<text x="434.7" y="898.4" font-size="16.5" font-weight="bold" text-anchor="start" fill="#262626" textLength="11.3" lengthAdjust="spacingAndGlyphs" >C</text>
<line x1="67.7" y1="933.3" x2="67.7" y2="1224.8" stroke="#4a4a4a" stroke-width="2.0" />
<line x1="66.9" y1="1224.0" x2="434.0" y2="1224.0" stroke="#4a4a4a" stroke-width="2.0" />
<line x1="67.7" y1="1224.0" x2="71.7" y2="1224.0" stroke="#4a4a4a" stroke-width="1.4" />
<text x="60.5" y="1231.3" font-size="17.5" font-weight="bold" text-anchor="end" fill="#262626" textLength="9.2" lengthAdjust="spacingAndGlyphs" >0</text>
<line x1="67.7" y1="1165.9" x2="71.7" y2="1165.9" stroke="#4a4a4a" stroke-width="1.4" />
<text x="60.5" y="1173.2" font-size="17.5" font-weight="bold" text-anchor="end" fill="#262626" textLength="27.5" lengthAdjust="spacingAndGlyphs" >200</text>
<line x1="67.7" y1="1107.7" x2="71.7" y2="1107.7" stroke="#4a4a4a" stroke-width="1.4" />
<text x="60.5" y="1115.0" font-size="17.5" font-weight="bold" text-anchor="end" fill="#262626" textLength="27.5" lengthAdjust="spacingAndGlyphs" >400</text>
<line x1="67.7" y1="1049.6" x2="71.7" y2="1049.6" stroke="#4a4a4a" stroke-width="1.4" />
<text x="60.5" y="1056.9" font-size="17.5" font-weight="bold" text-anchor="end" fill="#262626" textLength="27.5" lengthAdjust="spacingAndGlyphs" >600</text>
<line x1="67.7" y1="991.4" x2="71.7" y2="991.4" stroke="#4a4a4a" stroke-width="1.4" />
<text x="60.5" y="998.7" font-size="17.5" font-weight="bold" text-anchor="end" fill="#262626" textLength="27.5" lengthAdjust="spacingAndGlyphs" >800</text>
<line x1="67.7" y1="933.3" x2="71.7" y2="933.3" stroke="#4a4a4a" stroke-width="1.4" />
<text x="60.5" y="940.6" font-size="17.5" font-weight="bold" text-anchor="end" fill="#262626" textLength="36.6" lengthAdjust="spacingAndGlyphs" >1000</text>
<line x1="67.7" y1="1224.0" x2="67.7" y2="1220.0" stroke="#4a4a4a" stroke-width="1.4" />
<text x="67.7" y="1248.4" font-size="17.5" font-weight="bold" text-anchor="middle" fill="#262626" textLength="9.2" lengthAdjust="spacingAndGlyphs" >0</text>
<line x1="130.5" y1="1224.0" x2="130.5" y2="1220.0" stroke="#4a4a4a" stroke-width="1.4" />
<text x="130.5" y="1248.4" font-size="17.5" font-weight="bold" text-anchor="middle" fill="#262626" textLength="9.2" lengthAdjust="spacingAndGlyphs" >2</text>
<line x1="193.3" y1="1224.0" x2="193.3" y2="1220.0" stroke="#4a4a4a" stroke-width="1.4" />
<text x="193.3" y="1248.4" font-size="17.5" font-weight="bold" text-anchor="middle" fill="#262626" textLength="9.2" lengthAdjust="spacingAndGlyphs" >4</text>
<line x1="256.1" y1="1224.0" x2="256.1" y2="1220.0" stroke="#4a4a4a" stroke-width="1.4" />
<text x="256.1" y="1248.4" font-size="17.5" font-weight="bold" text-anchor="middle" fill="#262626" textLength="9.2" lengthAdjust="spacingAndGlyphs" >6</text>
<line x1="318.9" y1="1224.0" x2="318.9" y2="1220.0" stroke="#4a4a4a" stroke-width="1.4" />
<text x="318.9" y="1248.4" font-size="17.5" font-weight="bold" text-anchor="middle" fill="#262626" textLength="9.2" lengthAdjust="spacingAndGlyphs" >8</text>
<line x1="381.7" y1="1224.0" x2="381.7" y2="1220.0" stroke="#4a4a4a" stroke-width="1.4" />
<text x="381.7" y="1248.4" font-size="17.5" font-weight="bold" text-anchor="middle" fill="#262626" textLength="18.3" lengthAdjust="spacingAndGlyphs" >10</text>
<polyline points="67.7,1217.5 70.0,1214.5 73.0,1212.6 76.0,1211.9 85.0,1210.5 93.0,1209.5 110.0,1207.0 125.6,1204.6 129.2,1203.4 140.0,1203.0 170.0,1202.5 200.0,1201.3 250.0,1198.6 315.8,1192.8 353.8,1187.3 376.2,1182.3 392.4,1176.6 398.8,1172.6 402.9,1167.7 404.5,1160.5 405.2,1144.3 405.6,941.4 406.8,1000.0 407.5,1100.0 407.8,1144.3 409.4,1158.8 412.6,1165.3 420.7,1170.2 432.8,1176.2" fill="none" stroke="#0072BD" stroke-width="2.9" stroke-linejoin="round" stroke-linecap="butt" />
<path d="M394.6,1265.4 L403.2,1274.2 M403.2,1265.4 L394.6,1274.2" stroke="#555" stroke-width="1.3" fill="none"/>
<text x="407.3" y="1275.4" font-size="17.5" font-weight="bold" text-anchor="start" fill="#262626" textLength="17.6" lengthAdjust="spacingAndGlyphs" >10</text>
<text x="426.2" y="1266.8" font-size="12.5" font-weight="bold" text-anchor="start" fill="#262626" textLength="6.8" lengthAdjust="spacingAndGlyphs" >4</text>
<text x="250.0" y="1271.2" font-size="18.5" font-weight="bold" text-anchor="middle" fill="#262626" textLength="68.0" lengthAdjust="spacingAndGlyphs" >Time / s</text>
<text x="16.6" y="1155.0" font-size="19.3" font-weight="bold" text-anchor="start" fill="#262626" textLength="125.0" lengthAdjust="spacingAndGlyphs" transform="rotate(-90 16.6 1155.0)" >Temperature /</text>
<g transform="rotate(-90 16.6 1020.8)">
<circle cx="18.8" cy="1007.6" r="1.6" fill="none" stroke="#6a6a6a" stroke-width="1.16"/>
<text x="19.4" y="1020.8" font-size="20" font-weight="normal" fill="#6a6a6a" textLength="12.2" lengthAdjust="spacingAndGlyphs">C</text>
</g>
<text x="534.2" y="898.4" font-size="16.5" font-weight="bold" text-anchor="start" fill="#262626" textLength="350.1" lengthAdjust="spacingAndGlyphs" >(f) Phenomenon in other experiments No.2,</text>
<text x="890.5" y="898.4" font-size="16.5" font-weight="bold" text-anchor="start" fill="#262626" textLength="10.5" lengthAdjust="spacingAndGlyphs" font-style="italic" >T</text>
<polygon points="905.90,885.30 906.77,886.80 908.47,887.17 907.31,888.46 907.49,890.18 905.90,889.49 904.31,890.18 904.49,888.46 903.33,887.17 905.03,886.80" fill="#262626"/>
<text x="900.0" y="903.6" font-size="11.5" font-weight="bold" text-anchor="start" fill="#262626" textLength="18.5" lengthAdjust="spacingAndGlyphs" >ISC</text>
<text x="919.0" y="898.4" font-size="16.5" font-weight="bold" text-anchor="start" fill="#262626" textLength="38.7" lengthAdjust="spacingAndGlyphs" >=205</text>
<circle cx="960.8" cy="888.8" r="1.7" fill="none" stroke="#262626" stroke-width="1.32"/>
<text x="962.8" y="898.4" font-size="16.5" font-weight="bold" text-anchor="start" fill="#262626" textLength="11.2" lengthAdjust="spacingAndGlyphs" >C</text>
<line x1="591.6" y1="933.3" x2="591.6" y2="1071.0" stroke="#4a4a4a" stroke-width="2.0" />
<line x1="590.8" y1="1070.2" x2="964.0" y2="1070.2" stroke="#4a4a4a" stroke-width="2.0" />
<line x1="591.6" y1="1068.6" x2="595.1" y2="1068.6" stroke="#4a4a4a" stroke-width="1.4" />
<text x="586.6" y="1074.1" font-size="15" font-weight="bold" text-anchor="end" fill="#262626" textLength="7.2" lengthAdjust="spacingAndGlyphs" >0</text>
<line x1="591.6" y1="1038.6" x2="595.1" y2="1038.6" stroke="#4a4a4a" stroke-width="1.4" />
<text x="586.6" y="1044.1" font-size="15" font-weight="bold" text-anchor="end" fill="#262626" textLength="7.2" lengthAdjust="spacingAndGlyphs" >1</text>
<line x1="591.6" y1="1008.6" x2="595.1" y2="1008.6" stroke="#4a4a4a" stroke-width="1.4" />
<text x="586.6" y="1014.1" font-size="15" font-weight="bold" text-anchor="end" fill="#262626" textLength="7.2" lengthAdjust="spacingAndGlyphs" >2</text>
<line x1="591.6" y1="978.6" x2="595.1" y2="978.6" stroke="#4a4a4a" stroke-width="1.4" />
<text x="586.6" y="984.1" font-size="15" font-weight="bold" text-anchor="end" fill="#262626" textLength="7.2" lengthAdjust="spacingAndGlyphs" >3</text>
<line x1="591.6" y1="948.6" x2="595.1" y2="948.6" stroke="#4a4a4a" stroke-width="1.4" />
<text x="586.6" y="954.1" font-size="15" font-weight="bold" text-anchor="end" fill="#262626" textLength="7.2" lengthAdjust="spacingAndGlyphs" >4</text>
<text x="572.8" y="1043.4" font-size="16.5" font-weight="bold" text-anchor="start" fill="#262626" textLength="80.8" lengthAdjust="spacingAndGlyphs" transform="rotate(-90 572.8 1043.4)" >Voltage / V</text>
<polyline points="591.6,944.2 680.0,946.0 739.0,947.3 758.0,947.3 760.5,951.5 764.3,948.5 770.6,943.5 778.2,944.2 782.0,947.3 787.0,957.4 793.3,948.0 801.7,948.0 802.7,1047.0 807.2,1062.3 812.3,1068.6 815.0,1066.0 817.4,1065.0 825.0,1064.9 828.0,1056.8 831.3,1070.0 835.0,1058.0 841.4,1053.5 845.2,1058.5 855.3,1047.2 860.3,1051.0 867.4,994.0 875.5,1044.6 897.0,1067.4 964.0,1067.4" fill="none" stroke="#0072BD" stroke-width="2.9" stroke-linejoin="round" stroke-linecap="butt" />
<line x1="591.6" y1="1092.9" x2="591.6" y2="1234.4" stroke="#222" stroke-width="1.8" />
<line x1="591.6" y1="1233.6" x2="595.6" y2="1233.6" stroke="#222" stroke-width="1.6" />
<text x="573.0" y="1239.1" font-size="15" font-weight="bold" text-anchor="end" fill="#262626" textLength="16.2" lengthAdjust="spacingAndGlyphs" >10</text>
<text x="585.5" y="1232.1" font-size="10.5" font-weight="bold" text-anchor="end" fill="#262626" textLength="12.2" lengthAdjust="spacingAndGlyphs" >-2</text>
<line x1="591.6" y1="1226.5" x2="594.1" y2="1226.5" stroke="#222" stroke-width="1.2" />
<line x1="591.6" y1="1222.4" x2="594.1" y2="1222.4" stroke="#222" stroke-width="1.2" />
<line x1="591.6" y1="1219.5" x2="594.1" y2="1219.5" stroke="#222" stroke-width="1.2" />
<line x1="591.6" y1="1217.2" x2="594.1" y2="1217.2" stroke="#222" stroke-width="1.2" />
<line x1="591.6" y1="1215.4" x2="594.1" y2="1215.4" stroke="#222" stroke-width="1.2" />
<line x1="591.6" y1="1213.8" x2="594.1" y2="1213.8" stroke="#222" stroke-width="1.2" />
<line x1="591.6" y1="1212.4" x2="594.1" y2="1212.4" stroke="#222" stroke-width="1.2" />
<line x1="591.6" y1="1211.2" x2="594.1" y2="1211.2" stroke="#222" stroke-width="1.2" />
<line x1="591.6" y1="1210.1" x2="595.6" y2="1210.1" stroke="#222" stroke-width="1.6" />
<text x="573.0" y="1215.6" font-size="15" font-weight="bold" text-anchor="end" fill="#262626" textLength="16.2" lengthAdjust="spacingAndGlyphs" >10</text>
<text x="585.5" y="1208.6" font-size="10.5" font-weight="bold" text-anchor="end" fill="#262626" textLength="12.2" lengthAdjust="spacingAndGlyphs" >-1</text>
<line x1="591.6" y1="1203.1" x2="594.1" y2="1203.1" stroke="#222" stroke-width="1.2" />
<line x1="591.6" y1="1199.0" x2="594.1" y2="1199.0" stroke="#222" stroke-width="1.2" />
<line x1="591.6" y1="1196.0" x2="594.1" y2="1196.0" stroke="#222" stroke-width="1.2" />
<line x1="591.6" y1="1193.8" x2="594.1" y2="1193.8" stroke="#222" stroke-width="1.2" />
<line x1="591.6" y1="1191.9" x2="594.1" y2="1191.9" stroke="#222" stroke-width="1.2" />
<line x1="591.6" y1="1190.3" x2="594.1" y2="1190.3" stroke="#222" stroke-width="1.2" />
<line x1="591.6" y1="1189.0" x2="594.1" y2="1189.0" stroke="#222" stroke-width="1.2" />
<line x1="591.6" y1="1187.8" x2="594.1" y2="1187.8" stroke="#222" stroke-width="1.2" />
<line x1="591.6" y1="1186.7" x2="595.6" y2="1186.7" stroke="#222" stroke-width="1.6" />
<text x="579.1" y="1192.2" font-size="15" font-weight="bold" text-anchor="end" fill="#262626" textLength="16.2" lengthAdjust="spacingAndGlyphs" >10</text>
<text x="585.5" y="1185.2" font-size="10.5" font-weight="bold" text-anchor="end" fill="#262626" textLength="6.1" lengthAdjust="spacingAndGlyphs" >0</text>
<line x1="591.6" y1="1179.6" x2="594.1" y2="1179.6" stroke="#222" stroke-width="1.2" />
<line x1="591.6" y1="1175.5" x2="594.1" y2="1175.5" stroke="#222" stroke-width="1.2" />
<line x1="591.6" y1="1172.6" x2="594.1" y2="1172.6" stroke="#222" stroke-width="1.2" />
<line x1="591.6" y1="1170.3" x2="594.1" y2="1170.3" stroke="#222" stroke-width="1.2" />
<line x1="591.6" y1="1168.5" x2="594.1" y2="1168.5" stroke="#222" stroke-width="1.2" />
<line x1="591.6" y1="1166.9" x2="594.1" y2="1166.9" stroke="#222" stroke-width="1.2" />
<line x1="591.6" y1="1165.5" x2="594.1" y2="1165.5" stroke="#222" stroke-width="1.2" />
<line x1="591.6" y1="1164.3" x2="594.1" y2="1164.3" stroke="#222" stroke-width="1.2" />
<line x1="591.6" y1="1163.2" x2="595.6" y2="1163.2" stroke="#222" stroke-width="1.6" />
<text x="579.1" y="1168.8" font-size="15" font-weight="bold" text-anchor="end" fill="#262626" textLength="16.2" lengthAdjust="spacingAndGlyphs" >10</text>
<text x="585.5" y="1161.8" font-size="10.5" font-weight="bold" text-anchor="end" fill="#262626" textLength="6.1" lengthAdjust="spacingAndGlyphs" >1</text>
<line x1="591.6" y1="1156.2" x2="594.1" y2="1156.2" stroke="#222" stroke-width="1.2" />
<line x1="591.6" y1="1152.1" x2="594.1" y2="1152.1" stroke="#222" stroke-width="1.2" />
<line x1="591.6" y1="1149.1" x2="594.1" y2="1149.1" stroke="#222" stroke-width="1.2" />
<line x1="591.6" y1="1146.9" x2="594.1" y2="1146.9" stroke="#222" stroke-width="1.2" />
<line x1="591.6" y1="1145.0" x2="594.1" y2="1145.0" stroke="#222" stroke-width="1.2" />
<line x1="591.6" y1="1143.4" x2="594.1" y2="1143.4" stroke="#222" stroke-width="1.2" />
<line x1="591.6" y1="1142.1" x2="594.1" y2="1142.1" stroke="#222" stroke-width="1.2" />
<line x1="591.6" y1="1140.9" x2="594.1" y2="1140.9" stroke="#222" stroke-width="1.2" />
<line x1="591.6" y1="1139.8" x2="595.6" y2="1139.8" stroke="#222" stroke-width="1.6" />
<text x="579.1" y="1145.3" font-size="15" font-weight="bold" text-anchor="end" fill="#262626" textLength="16.2" lengthAdjust="spacingAndGlyphs" >10</text>
<text x="585.5" y="1138.3" font-size="10.5" font-weight="bold" text-anchor="end" fill="#262626" textLength="6.1" lengthAdjust="spacingAndGlyphs" >2</text>
<line x1="591.6" y1="1132.7" x2="594.1" y2="1132.7" stroke="#222" stroke-width="1.2" />
<line x1="591.6" y1="1128.6" x2="594.1" y2="1128.6" stroke="#222" stroke-width="1.2" />
<line x1="591.6" y1="1125.7" x2="594.1" y2="1125.7" stroke="#222" stroke-width="1.2" />
<line x1="591.6" y1="1123.4" x2="594.1" y2="1123.4" stroke="#222" stroke-width="1.2" />
<line x1="591.6" y1="1121.6" x2="594.1" y2="1121.6" stroke="#222" stroke-width="1.2" />
<line x1="591.6" y1="1120.0" x2="594.1" y2="1120.0" stroke="#222" stroke-width="1.2" />
<line x1="591.6" y1="1118.6" x2="594.1" y2="1118.6" stroke="#222" stroke-width="1.2" />
<line x1="591.6" y1="1117.4" x2="594.1" y2="1117.4" stroke="#222" stroke-width="1.2" />
<line x1="591.6" y1="1116.3" x2="595.6" y2="1116.3" stroke="#222" stroke-width="1.6" />
<text x="579.1" y="1121.8" font-size="15" font-weight="bold" text-anchor="end" fill="#262626" textLength="16.2" lengthAdjust="spacingAndGlyphs" >10</text>
<text x="585.5" y="1114.8" font-size="10.5" font-weight="bold" text-anchor="end" fill="#262626" textLength="6.1" lengthAdjust="spacingAndGlyphs" >3</text>
<line x1="591.6" y1="1109.3" x2="594.1" y2="1109.3" stroke="#222" stroke-width="1.2" />
<line x1="591.6" y1="1105.2" x2="594.1" y2="1105.2" stroke="#222" stroke-width="1.2" />
<line x1="591.6" y1="1102.2" x2="594.1" y2="1102.2" stroke="#222" stroke-width="1.2" />
<line x1="591.6" y1="1100.0" x2="594.1" y2="1100.0" stroke="#222" stroke-width="1.2" />
<line x1="591.6" y1="1098.1" x2="594.1" y2="1098.1" stroke="#222" stroke-width="1.2" />
<line x1="591.6" y1="1096.5" x2="594.1" y2="1096.5" stroke="#222" stroke-width="1.2" />
<line x1="591.6" y1="1095.2" x2="594.1" y2="1095.2" stroke="#222" stroke-width="1.2" />
<line x1="591.6" y1="1094.0" x2="594.1" y2="1094.0" stroke="#222" stroke-width="1.2" />
<line x1="591.6" y1="1092.9" x2="595.6" y2="1092.9" stroke="#222" stroke-width="1.6" />
<text x="579.1" y="1098.4" font-size="15" font-weight="bold" text-anchor="end" fill="#262626" textLength="16.2" lengthAdjust="spacingAndGlyphs" >10</text>
<text x="585.5" y="1091.4" font-size="10.5" font-weight="bold" text-anchor="end" fill="#262626" textLength="6.1" lengthAdjust="spacingAndGlyphs" >4</text>
<line x1="590.8" y1="1233.6" x2="964.0" y2="1233.6" stroke="#555" stroke-width="1.8" />
<line x1="625.2" y1="1233.6" x2="625.2" y2="1230.6" stroke="#4a4a4a" stroke-width="1.4" />
<text x="625.2" y="1254.7" font-size="14.5" font-weight="bold" text-anchor="middle" fill="#262626" textLength="22.8" lengthAdjust="spacingAndGlyphs" >100</text>
<line x1="709.9" y1="1233.6" x2="709.9" y2="1230.6" stroke="#4a4a4a" stroke-width="1.4" />
<text x="709.9" y="1254.7" font-size="14.5" font-weight="bold" text-anchor="middle" fill="#262626" textLength="22.8" lengthAdjust="spacingAndGlyphs" >150</text>
<line x1="794.6" y1="1233.6" x2="794.6" y2="1230.6" stroke="#4a4a4a" stroke-width="1.4" />
<text x="794.6" y="1254.7" font-size="14.5" font-weight="bold" text-anchor="middle" fill="#262626" textLength="22.8" lengthAdjust="spacingAndGlyphs" >200</text>
<line x1="879.3" y1="1233.6" x2="879.3" y2="1230.6" stroke="#4a4a4a" stroke-width="1.4" />
<text x="879.3" y="1254.7" font-size="14.5" font-weight="bold" text-anchor="middle" fill="#262626" textLength="22.8" lengthAdjust="spacingAndGlyphs" >250</text>
<line x1="964.0" y1="1233.6" x2="964.0" y2="1230.6" stroke="#4a4a4a" stroke-width="1.4" />
<text x="964.0" y="1254.7" font-size="14.5" font-weight="bold" text-anchor="middle" fill="#262626" textLength="22.8" lengthAdjust="spacingAndGlyphs" >300</text>
<text x="553.5" y="1220.8" font-size="17" font-weight="bold" text-anchor="start" fill="#262626" textLength="48.0" lengthAdjust="spacingAndGlyphs" transform="rotate(-90 553.5 1220.8)" >dT/dt /</text>
<g transform="rotate(-90 553.5 1168.2)">
<circle cx="555.5" cy="1157.0" r="1.4" fill="none" stroke="#6a6a6a" stroke-width="1.02"/>
<text x="556.7" y="1168.2" font-size="17" font-weight="normal" fill="#6a6a6a" textLength="10.2" lengthAdjust="spacingAndGlyphs">C</text>
</g>
<text x="553.5" y="1152.3" font-size="17" font-weight="bold" text-anchor="start" fill="#262626" textLength="33.0" lengthAdjust="spacingAndGlyphs" transform="rotate(-90 553.5 1152.3)" >·min</text>
<text x="546.7" y="1117.5" font-size="11.5" font-weight="bold" text-anchor="start" fill="#262626" textLength="9.0" lengthAdjust="spacingAndGlyphs" transform="rotate(-90 546.7 1117.5)" >-1</text>
<text x="715.9" y="1273.3" font-size="15" font-weight="bold" text-anchor="start" fill="#262626" textLength="102.7" lengthAdjust="spacingAndGlyphs" >Temperature /</text>
<circle cx="827.0" cy="1264.1" r="1.2" fill="none" stroke="#6a6a6a" stroke-width="0.9"/>
<text x="828.4" y="1274.1" font-size="16.5" font-weight="normal" text-anchor="start" fill="#6a6a6a" textLength="10.2" lengthAdjust="spacingAndGlyphs" >C</text>
<path d="M591.5,1217.7 L592.6,1218.6 L593.7,1217.4 L594.8,1218.7 L595.9,1217.7 L597.0,1216.3 L598.1,1217.5 L599.2,1217.8 L600.3,1216.3 L601.4,1217.9 L602.5,1217.4 L603.6,1215.2 L604.7,1216.1 L605.8,1217.0 L606.9,1214.9 L608.0,1214.6 L609.1,1215.2 L610.2,1214.7 L611.3,1214.1 L612.4,1215.5 L613.5,1215.1 L614.6,1215.4 L615.7,1214.6 L616.8,1214.0 L617.9,1212.7 L619.0,1214.2 L620.1,1214.2 L621.2,1212.7 L622.3,1212.6 L623.4,1213.7 L624.5,1211.2 L625.6,1212.6 L626.7,1211.9 L627.8,1211.9 L628.9,1210.9 L630.0,1211.5 L631.1,1210.5 L632.2,1210.7 L633.3,1210.5 L634.4,1210.2 L635.5,1209.5 L636.6,1211.0 L637.7,1210.6 L638.8,1210.9 L639.9,1209.6 L641.0,1210.7 L642.1,1210.4 L643.2,1209.0 L644.3,1210.0 L645.4,1207.9 L646.5,1209.5 L647.6,1209.5 L648.7,1207.9 L649.8,1208.2 L650.9,1208.0 L652.0,1208.5 L653.1,1208.3 L654.2,1207.7 L655.3,1207.8 L656.4,1207.2 L657.5,1207.7 L658.6,1207.6 L659.7,1207.1 L660.8,1207.3 L661.9,1206.8 L663.0,1206.9 L664.1,1206.6 L665.2,1205.9 L666.3,1206.2 L667.4,1206.0 L668.5,1205.6 L669.6,1205.9 L670.7,1205.0 L671.8,1204.8 L672.9,1204.7 L674.0,1204.9 L675.1,1204.6 L676.2,1204.4 L677.3,1204.0 L678.4,1204.0 L679.5,1203.9 L680.6,1203.9 L681.7,1203.7 L682.8,1202.9 L683.9,1202.8 L685.0,1202.9 L686.1,1203.1 L687.2,1203.2 L688.3,1203.3 L689.4,1203.8 L690.5,1203.5 L691.6,1204.0 L692.7,1203.8 L693.8,1204.1 L694.9,1204.0 L696.0,1204.3 L697.1,1204.1 L698.2,1205.1 L699.3,1205.0 L699.3,1209.4 L698.2,1208.4 L697.1,1208.5 L696.0,1208.1 L694.9,1208.1 L693.8,1208.1 L692.7,1207.5 L691.6,1207.0 L690.5,1207.4 L689.4,1207.1 L688.3,1207.0 L687.2,1206.7 L686.1,1207.2 L685.0,1207.2 L683.9,1207.2 L682.8,1207.1 L681.7,1207.6 L680.6,1207.8 L679.5,1207.2 L678.4,1208.0 L677.3,1207.7 L676.2,1207.9 L675.1,1208.2 L674.0,1208.2 L672.9,1209.1 L671.8,1208.9 L670.7,1208.8 L669.6,1209.0 L668.5,1209.9 L667.4,1209.5 L666.3,1210.2 L665.2,1210.1 L664.1,1210.6 L663.0,1210.0 L661.9,1210.4 L660.8,1210.6 L659.7,1211.0 L658.6,1211.3 L657.5,1211.7 L656.4,1211.4 L655.3,1212.1 L654.2,1212.6 L653.1,1212.4 L652.0,1213.1 L650.9,1212.7 L649.8,1212.4 L648.7,1213.0 L647.6,1212.6 L646.5,1213.9 L645.4,1215.0 L644.3,1213.6 L643.2,1214.1 L642.1,1215.0 L641.0,1215.5 L639.9,1216.8 L638.8,1217.0 L637.7,1216.5 L636.6,1216.0 L635.5,1217.4 L634.4,1215.8 L633.3,1217.4 L632.2,1218.5 L631.1,1216.8 L630.0,1218.2 L628.9,1218.4 L627.8,1219.1 L626.7,1218.7 L625.6,1220.2 L624.5,1218.2 L623.4,1219.4 L622.3,1219.8 L621.2,1220.2 L620.1,1221.9 L619.0,1220.6 L617.9,1221.7 L616.8,1222.8 L615.7,1223.3 L614.6,1224.0 L613.5,1222.7 L612.4,1223.1 L611.3,1223.0 L610.2,1224.6 L609.1,1225.2 L608.0,1226.6 L606.9,1226.7 L605.8,1226.0 L604.7,1225.7 L603.6,1226.4 L602.5,1227.3 L601.4,1227.9 L600.3,1226.2 L599.2,1226.9 L598.1,1226.7 L597.0,1227.7 L595.9,1227.5 L594.8,1228.4 L593.7,1229.4 L592.6,1228.8 L591.5,1229.5 Z" fill="#0072BD" stroke="#0072BD" stroke-width="0.8" stroke-linejoin="round"/>
<polyline points="698.0,1206.5 701.5,1208.5 703.0,1206.5 708.0,1203.5 722.5,1197.8 745.0,1192.1 776.9,1181.4 793.3,1177.6" fill="none" stroke="#0072BD" stroke-width="3.0" stroke-linejoin="round" stroke-linecap="butt" />
<polyline points="599.0,1219.0 600.0,1226.0 601.0,1219.0" fill="none" stroke="#0072BD" stroke-width="1.5" stroke-linejoin="round" stroke-linecap="butt" />
<polyline points="622.0,1213.0 624.5,1220.0 627.0,1213.0" fill="none" stroke="#0072BD" stroke-width="2.0" stroke-linejoin="round" stroke-linecap="butt" />
<polyline points="793.3,1177.6 795.0,1176.0 796.0,1179.0 797.5,1174.0 799.0,1178.0 800.9,1177.6 802.5,1165.0 804.2,1154.8 807.0,1161.0 810.0,1166.5 813.6,1168.8 825.0,1164.0 840.1,1157.4 860.0,1151.5 870.0,1149.0 873.0,1147.5 876.8,1147.3 890.7,1124.5 964.0,1117.0" fill="none" stroke="#0072BD" stroke-width="2.9" stroke-linejoin="round" stroke-linecap="butt" />
<circle cx="804.7" cy="1166.2" r="28.3" fill="none" stroke="#E2404E" stroke-width="2" stroke-dasharray="5,3.6"/>
</svg></body></html>
